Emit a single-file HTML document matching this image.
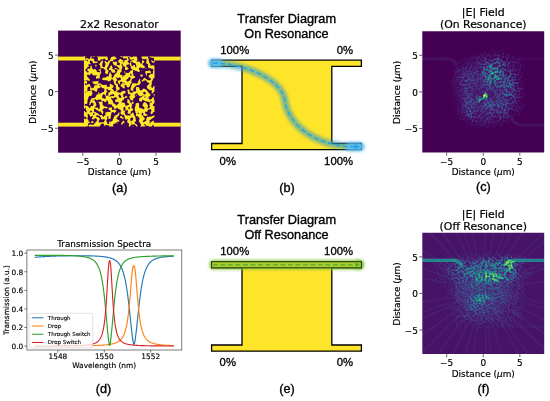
<!DOCTYPE html>
<html><head><meta charset="utf-8"><title>Resonator transfer figure</title>
<style>html,body{margin:0;padding:0;background:#fff}svg{display:block}</style></head>
<body>
<svg width="550" height="401" viewBox="0 0 550 401">
<rect width="550" height="401" fill="#fff"/>
<defs>
<filter id="vir" x="0" y="0" width="1" height="1" filterUnits="objectBoundingBox" color-interpolation-filters="sRGB"><feGaussianBlur stdDeviation="0.78"/><feComponentTransfer><feFuncR type="table" tableValues="0.267 0.277 0.282 0.283 0.279 0.271 0.259 0.245 0.230 0.214 0.199 0.186 0.173 0.161 0.149 0.138 0.128 0.121 0.121 0.132 0.158 0.197 0.246 0.304 0.369 0.440 0.516 0.596 0.678 0.762 0.846 0.926 0.993"/><feFuncG type="table" tableValues="0.005 0.050 0.095 0.136 0.175 0.214 0.252 0.288 0.322 0.356 0.388 0.419 0.449 0.479 0.508 0.537 0.567 0.596 0.626 0.655 0.684 0.712 0.739 0.765 0.789 0.811 0.831 0.849 0.864 0.876 0.887 0.897 0.906"/><feFuncB type="table" tableValues="0.329 0.376 0.417 0.453 0.483 0.507 0.525 0.537 0.546 0.551 0.555 0.557 0.558 0.558 0.557 0.555 0.551 0.544 0.533 0.520 0.502 0.479 0.452 0.420 0.383 0.341 0.294 0.243 0.190 0.137 0.100 0.104 0.144"/><feFuncA type="linear" slope="0" intercept="1"/></feComponentTransfer></filter>
<filter id="glowB" x="-20%" y="-20%" width="140%" height="140%"><feGaussianBlur stdDeviation="1.7"/></filter>
<filter id="glowG" x="-20%" y="-100%" width="140%" height="300%"><feGaussianBlur stdDeviation="1.6"/></filter>
<filter id="hz" x="-30%" y="-30%" width="160%" height="160%"><feGaussianBlur stdDeviation="2.5"/></filter>
<filter id="hz2" x="-40%" y="-40%" width="180%" height="180%"><feGaussianBlur stdDeviation="7"/></filter>
<filter id="soft" x="-5%" y="-5%" width="110%" height="110%"><feGaussianBlur stdDeviation="0.3"/></filter>
</defs>
<rect x="58.1" y="30.6" width="122.6" height="122.1" fill="#440154"/>
<rect x="58.1" y="56.6" width="27" height="3.9" fill="#fde725"/>
<rect x="58.1" y="122.7" width="27" height="3.9" fill="#fde725"/>
<rect x="154" y="56.6" width="26.7" height="3.9" fill="#fde725"/>
<rect x="154" y="122.7" width="26.7" height="3.9" fill="#fde725"/>
<path d="M84.75 58.22L84.5 57.63L84.25 57.57L84 57.7L84 56.36L87.84 56.4L87.25 56.61L86.25 56.51L85 56.59L84.83 57.15L84.75 58.22ZM137.25 126.4L135.94 126.4L136.09 125.9L135.86 125.4L134.5 124.45L133.75 124.29L132.25 124.77L131.25 124.56L130.3 125.9L130.24 126.4L128.16 126.4L128.75 126.15L128.86 125.9L128.93 123.9L128.69 123.15L127.55 122.65L127.3 122.4L127.31 120.4L127.38 120.15L127.87 119.65L127.99 119.15L127.75 118.9L127.5 118.94L126.75 119.84L125.97 119.65L125.45 119.15L125.13 118.15L124.5 117.15L124.25 115.65L124 115.08L123.5 114.84L122 115.01L121.5 114.6L120.28 112.9L120.98 111.15L120.99 110.65L120.78 110.15L120.25 109.71L118.53 108.9L117.5 107.92L117 107.69L115.75 108.83L115.25 109.07L114.75 109L114.11 108.15L113.6 106.9L112.34 106.15L111.5 104.36L111.25 104.18L110.5 104.46L108.75 103.95L108.41 104.15L108 104.75L107.75 104.8L107.66 104.4L108.21 103.4L108.26 102.15L107.75 100.93L107 100.2L106.75 100.28L106.09 101.65L105.25 102.23L104.5 102.12L103.75 100.78L103.25 100.93L102.18 101.65L102.63 102.9L102.61 104.4L103.17 105.4L104.75 106.59L105 106.66L106 106.46L107 106.72L107.48 107.15L107.66 107.65L107.04 108.15L106.25 108.53L105.75 108.43L105 108.02L104.5 107.97L104 108.26L102.75 109.43L102.47 109.9L102.39 110.4L103.5 111.65L103.13 112.65L103.02 113.9L102.79 114.15L102.5 114.19L102.25 113.98L101.2 112.4L100.76 111.4L100.5 111.2L100 111.22L99 111.7L98.75 111.62L98 110.58L96.5 110.09L95.25 108.81L94.75 108.54L94.25 109L94.05 109.65L94.01 110.9L94.25 111.77L94.5 111.97L95.75 112.23L97.75 113.62L98.75 113.99L99 114.19L99.5 115.13L101.25 115.09L102 115.27L103.75 117.03L104 117.02L103.95 116.15L104.1 115.65L105.5 115.03L105.77 114.65L105.66 114.15L105.1 113.15L105.16 112.65L106.25 112.39L107 111.72L109.25 111.99L110.25 111.73L110.64 111.4L110.79 110.9L110.69 110.65L109.75 110.27L109.25 109.89L108.7 109.15L108.29 108.15L108.5 107.83L109.5 107.77L110.75 107.14L111.25 107.16L112.26 107.9L112.26 108.4L111.82 109.4L112 109.84L112.75 109.92L114.5 109.51L115 109.5L116.12 110.15L116.31 110.9L116.08 111.4L114.5 113L114.25 113.03L113.5 112.3L112.75 112.02L112 112.2L111.54 112.65L111.22 113.65L111.13 115.15L110.53 116.15L110.97 117.65L110.84 118.15L110.5 118.5L109.25 118.92L108.25 118.72L108.13 118.4L108.56 117.4L108.49 116.9L107.75 116.31L107.5 116.25L107.18 116.4L106.95 117.4L107.46 118.65L106.39 120.15L106.25 120.65L106.4 121.15L107.23 122.4L107.25 123.83L108.25 124.07L109.02 123.9L109.41 123.65L109.1 123.15L109.01 122.65L109.08 122.15L109.35 121.65L109.75 121.54L110.5 121.77L111 121.75L112.71 120.65L112.7 119.9L112.85 119.4L114.12 116.9L114.5 115.75L115.12 115.4L117 114.84L118 113.65L118.5 112.63L118.75 112.41L119.25 112.49L119.74 112.9L119.3 113.9L119.17 115.4L117.8 115.9L117.65 117.15L116.43 118.15L116.3 118.4L116.6 118.9L117.75 119.4L119.37 120.65L119.61 121.15L119.5 121.55L117.5 121.67L117.18 121.9L116.5 122.81L114.75 123.49L113.06 124.4L112.92 124.65L112.96 125.15L113.46 126.4L109.39 126.4L109.29 125.65L109 125.41L106.75 124.92L106.25 125L104.75 125.65L104.25 125.66L104.07 125.4L104 124.4L103.76 123.9L103.25 123.51L102.75 123.41L101.75 123.73L100.87 124.4L99.91 125.65L100.07 126.4L89.16 126.4L88.73 126.15L88.41 125.4L88.62 125.15L89.75 124.55L90.75 124.44L92.5 124.84L93.25 124.75L93.75 124.51L94.06 124.15L94.36 123.4L95.75 122.22L96.96 120.65L97.13 120.15L96.67 118.9L96.25 118.44L95.75 118.2L95.25 118.16L94.75 118.36L93.5 119.38L93 119.41L92.38 119.15L92.02 118.9L91.86 118.65L91.87 118.4L92.76 116.65L92.69 115.9L92.25 115.85L90.75 116.83L90.25 116.82L89.83 116.4L89.8 115.4L89.38 114.65L88.75 114.11L87.75 113.83L87.67 114.15L87.91 116.9L87.43 118.15L87.38 118.65L88.56 120.15L88.56 121.4L89.75 121.89L89.85 122.4L89.6 122.9L89.26 123.15L88.25 123.17L88.02 123.4L88.17 125.15L87.3 126.4L84 126.38L84 118.36L84.75 118.38L85 118.95L85.75 119.14L86.25 119.02L86.56 118.4L86.25 117.4L85.25 116.48L85 116.32L84.75 116.65L84 116.75L83.9 113.4L84 110.95L84.75 110.97L85 111.79L86 112.33L86.52 112.4L86.75 112.16L86.78 111.9L86.58 110.9L85.83 109.4L85.63 107.9L85 107.33L84.75 108.4L84.5 108.43L84 109.26L83.95 107.15L84 101.01L84.25 101.07L84.43 100.9L84.44 100.65L84.25 100.39L84 100.44L83.91 98.65L83.96 82.15L84 81.42L84.42 80.9L84.4 80.65L84 80.24L83.91 78.9L83.94 61.4L84 60.15L84.5 60.07L84.75 59.8L85 60.74L85.39 60.4L85.49 58.65L85.75 58.25L87.75 58.25L89.25 59.14L89.5 59.16L90 58.57L90.29 57.9L90.45 56.9L90.37 56.4L95.07 56.4L94.75 56.9L94.25 57.11L92.75 56.66L92 56.7L91.36 57.4L91.21 57.9L91.25 58.24L91.75 58.62L93.25 58.4L93.97 58.65L94.17 59.15L94.14 60.65L94.5 61.13L95 61.43L96 61.79L96.25 61.78L97.25 61.05L97.39 61.4L97.33 62.65L97.25 62.91L97 63.04L96.25 63.02L93.5 63.34L93.08 63.15L92.65 61.9L92.25 61.34L90.5 60.47L90 60.5L89.77 61.4L89.74 62.15L90 62.84L90.65 63.65L90.64 63.9L90.25 64.18L89 64.17L88.35 64.4L88.23 64.65L88.35 65.15L89.2 66.15L89.22 66.4L87.89 66.65L87.44 66.9L87.3 67.15L87.25 68.24L86 68.78L85.33 69.9L85.38 70.4L86.51 71.4L87.31 72.4L87.75 72.6L88.25 72.43L88.75 71.93L88.8 71.65L88.62 71.4L87.57 70.9L87.37 70.65L87.34 69.9L87.53 68.9L87.95 68.65L89.75 68.47L90.27 68.15L90.65 67.4L90.03 66.4L90.53 65.9L91 65.7L91.5 65.77L91.92 66.15L91.99 66.65L91.79 67.4L92.75 69.28L93.25 69.42L94.75 69.03L95.5 69.28L96.65 70.4L96.95 71.65L97.5 72.04L99.5 72.3L99.95 72.15L100.2 71.9L100.29 71.4L100.13 71.15L98.84 70.4L98.6 69.9L98.93 69.4L100.5 68.66L100.83 70.9L101.28 72.15L101.08 72.9L100.04 74.65L99.61 76.9L99.68 78.15L99.5 78.56L99.25 78.75L99 78.75L98 78.17L96.5 78.71L96.25 78.7L96 78.47L95.9 77.65L96 76.42L96.25 75.9L96.99 75.65L97 75.34L96.75 74.88L96.5 74.94L96 75.56L93.25 75.17L92.5 74.67L91.75 73.48L91.5 73.32L90.5 73.96L89.75 75.14L89.5 75.3L88 74.53L87.5 74.58L87.2 74.9L87.03 75.4L87.17 76.4L87.5 76.91L89.63 79.15L89.93 79.65L90.03 80.15L89.75 80.66L89 80.84L87.97 80.65L86.85 79.9L86.5 79.93L86.15 80.15L86.05 80.4L86.75 80.9L87.08 81.4L87.09 82.9L86.75 83.68L86.25 83.95L85 83.07L84.89 83.9L85 85.05L86 84.76L87 84.79L88.48 83.9L89.25 83.85L89.75 84.23L90.15 84.9L90.5 86.9L92.25 88.26L92.75 88.37L93 88.29L93.62 87.65L93.99 86.4L94.5 85.59L95.25 85.24L96.5 85.32L97.33 84.9L97.56 84.65L97.55 84.4L97 84.28L95.5 84.55L94 83.99L93.02 83.15L92.36 82.15L92.25 81.59L92.5 81.39L93.75 81.59L95.25 81.14L96.75 81.22L98.25 80.79L98.44 81.15L98.33 82.9L98.6 83.4L99.5 83.59L100.79 83.4L101.15 83.65L101.75 84.5L103.25 84.92L104.5 84.89L106.5 84.41L106.82 84.65L106.59 85.65L106.71 86.15L107 86.52L107.5 86.74L109.25 86.78L109.61 86.65L109.94 85.9L109.69 84.65L109.75 84.07L110 83.76L110.25 83.68L110.75 83.8L111.5 84.53L113 85.27L113.53 85.9L113.6 86.4L113.3 87.15L112.03 88.4L112.13 88.65L113.25 89.61L114.25 91.21L114.75 91.5L116 90.67L116.36 89.9L116.33 89.15L115.7 87.9L116 85.9L115.79 85.4L114.9 84.65L114.27 83.65L113.86 82.65L113.63 80.9L113.24 80.15L112.5 79.25L112 79L111.75 79.05L111.5 79.27L110.75 80.62L109 81.59L108.5 81.44L107.75 80.69L107.12 80.4L106 80.22L104.25 80.32L102.8 79.9L102.38 79.65L102.18 79.15L102.26 78.65L102.5 78.23L103.5 77.55L104 77.52L105 77.77L105.5 77.55L106.5 76.66L107 76.4L108.25 76.33L108.82 76.15L109.07 75.65L108.92 74.9L108.97 74.4L109.53 73.15L109.7 72.15L110 71.89L110.25 71.91L110.49 72.15L110.58 73.15L111.25 73.96L111.61 74.65L111.77 75.9L111.62 77.65L112 78.05L112.5 77.97L113.08 77.4L114.41 74.65L116.53 72.65L116.9 71.65L117.57 70.4L117.5 70.04L116.25 69.22L114.75 69.06L114.65 68.65L114.85 67.9L115 67.72L115.5 67.74L117.5 68.88L118 69.58L119 69.5L119.45 69.15L119.49 68.9L119.25 68.45L118.27 67.65L117.25 66.45L116.25 65.81L114.75 65.55L113.62 64.65L112.71 62.9L113 61.53L113.5 61.55L114.75 61.93L115.75 61.49L116.25 61.65L117.28 62.65L116.77 64.15L116.84 64.65L117.5 65.04L119 65.25L119.53 64.9L120 63.9L119.83 63.15L119.5 62.72L118.25 62.45L118.06 62.15L118.41 60.4L118.96 59.65L120.25 59.08L121 59L121.34 59.15L122 59.98L123.25 60.33L123.49 60.65L123.48 60.9L122.48 61.9L122.55 62.15L123 62.22L123.63 62.15L124.05 61.9L124.14 60.9L124.59 60.4L125.25 60.12L126.49 59.9L126.79 59.65L126.9 58.9L126.59 58.4L126 58.26L123.5 58.61L123.25 58.39L122.75 57.18L122.5 56.97L121 57.12L120.52 56.9L120.34 56.65L120.3 56.4L121 56.37L122.77 56.4L123 56.51L124.75 56.37L130.21 56.4L130.88 56.9L131.75 57.15L132.25 57.04L133.39 56.4L136.29 56.4L137.19 57.15L137.28 57.4L137.06 57.9L137.08 58.15L137.52 59.4L137.4 59.9L136.56 61.15L136.57 61.4L137.25 61.7L138.5 61.38L139.25 61.43L139.84 61.9L140.21 63.15L141 63.52L141.75 63.59L142.07 63.4L141.88 62.15L142.25 60.19L142.5 59.74L143.11 60.4L144.13 60.9L144.28 61.15L144.29 61.65L143.94 62.4L143.25 63.09L142.25 63.65L143.06 65.15L144.55 65.9L144.77 67.65L144.7 67.9L143 68.36L141.75 67.75L140.5 67.38L140 67.32L139.75 67.43L139.12 68.15L138.92 69.15L139.18 69.9L140.12 70.65L140.1 70.9L139.42 71.65L138.75 72.04L138.25 71.96L137.25 71.2L136.03 70.9L133.5 69.95L132.75 69.9L131.06 68.4L130.87 67.9L130.93 66.65L130.1 65.65L129.76 64.9L129.6 63.65L129.67 63.15L130.48 61.9L130.56 61.15L130.75 60.79L133.75 59.68L133.97 59.4L133.5 59.12L131.75 59.71L131 59.69L130.25 59.45L129.68 58.9L129.6 57.4L129.25 57.04L128.5 57L128 57.59L128.05 58.15L128.83 59.15L128.93 59.9L128.66 60.4L127.82 60.9L127.61 61.4L127.89 61.9L129.19 63.15L129.21 63.65L128.54 64.4L127.75 64.76L126.5 65.1L126.27 65.4L126.5 66.15L128.49 68.15L128.59 68.65L128.21 69.15L126.5 69.94L125.75 70.03L125.21 69.9L124.96 69.65L124.83 69.15L124.92 68.4L125.31 67.4L125.18 66.9L123.19 65.9L122.75 64.63L122.25 63.68L122 63.51L121.75 63.6L121.55 63.9L121.58 64.65L122.34 66.4L122.31 67.4L121.65 69.4L121.64 70.9L121.5 71.64L121.25 71.94L120.34 72.4L120.09 73.15L120.01 74.15L120.46 74.65L122.12 75.15L122.82 75.65L122.45 76.65L122.64 77.15L123 77.24L123.25 77.04L123.26 76.4L123.06 75.9L123.19 75.65L124.75 75.24L125.18 74.9L125.42 74.15L125.51 72.9L126.5 72.63L128 72.88L128.75 72.79L129.5 72.15L130.28 70.9L130.75 70.43L132.75 69.9L133.23 70.9L133.15 71.65L132.8 72.65L132.89 73.15L133.28 73.9L133.28 75.15L134 76.01L135 76.46L135.2 76.9L135.23 77.4L135 77.74L133.5 78.21L131.75 79.18L131.51 80.4L131.13 81.4L131.81 81.9L131.83 82.65L131.67 82.9L130.73 83.4L130.43 84.4L129.92 85.4L129.59 86.65L129 87.29L128.25 87.5L127 86.98L126.57 86.4L126.44 85.15L126.25 84.9L125.75 84.79L125.25 84.95L123.99 85.9L124.5 86.19L124.79 86.65L124.92 87.4L124.75 87.93L124.5 88.15L124 88.28L123.5 88.19L122.95 87.9L122 86.99L120.89 86.4L120.54 85.9L120.59 85.4L121.32 84.15L122.89 82.65L122.45 82.15L122 81.8L121.25 81.6L120.75 81.68L120.25 81.98L119.84 82.65L119.91 83.15L120.37 83.9L120.25 84.35L120 84.48L119.5 84.24L119 83.65L118.34 83.15L118 82.4L117.63 80.65L120 80.29L120.75 79.83L120.87 79.15L120.43 77.65L120 77.32L119.5 77.29L118.25 78.21L117.75 78.29L116.75 77.37L116.5 77.33L116.25 77.5L116.12 77.9L116.25 78.4L117.14 79.65L117.35 80.4L116.5 80.69L116.08 81.15L115.82 81.9L115.89 82.65L116.29 83.4L118.06 84.4L118.23 84.9L117.97 85.9L118.04 86.4L118.5 87.02L119.5 87.48L119.81 88.4L119.62 89.15L116.78 91.15L116.67 91.4L116.81 91.9L117.5 92.27L118.75 92.29L120 93.05L120.25 92.99L121.1 91.9L122.75 91.1L123.75 90.83L124.75 91.05L125.61 91.65L125.74 91.9L125.72 92.4L125.14 93.15L123.75 93.67L123.25 94.11L123.14 94.9L123.37 96.65L124 97.35L124.75 97.54L125.5 96.12L126 95.76L126.86 96.15L127.31 96.9L127.2 97.4L126.75 97.82L125 97.92L124.75 98.07L123.72 99.4L122.29 100.65L121.97 101.15L121.5 102.47L121.5 103.12L121.75 103.18L122.07 102.4L122.5 102.28L124.59 102.9L125 103.4L125.25 105.12L125.75 105.81L126.25 105.82L128.5 105.03L129.1 104.4L129.13 103.9L128.53 103.4L127.25 102.8L127.02 102.4L127.4 101.15L127.29 99.65L127.5 99.2L127.75 99.11L128.5 99.32L129.33 99.9L130.35 101.9L131 103.55L131.25 103.64L131.54 102.9L132.42 101.65L132.75 100.89L133.25 101.66L133.62 102.65L133.62 103.15L133.31 103.65L132 104.01L131.88 104.15L132.29 105.65L132.21 105.9L131.54 106.65L131.35 107.15L131.59 107.65L133.01 108.9L133.24 109.4L133.18 109.9L132.5 110.78L131.5 110.98L131.23 111.15L130.97 111.65L130.47 113.65L130.25 113.84L128.5 113.8L127.77 113.4L127.46 112.65L127.87 111.65L127.94 110.65L127.75 110.13L127.25 110.03L125.75 110.52L124.92 111.4L124.66 112.15L124.84 113.65L125.75 114.89L126.5 115.36L127.25 115.46L128.5 115.27L130 115.78L130.24 115.65L130.31 115.4L130.34 113.9L130.5 113.69L131.25 113.71L131.75 113.41L132.75 112.39L133.25 112.49L133.51 112.9L134 114.81L134.97 116.15L135.25 116.79L136.07 120.65L136 120.93L134.93 121.65L134.71 122.15L134.7 122.9L135 123.43L136.69 124.4L137.25 124.9L137.42 125.4L137.25 126.4ZM99.5 60.68L97.75 60.59L97.61 59.9L98.03 58.15L97.99 57.65L96.52 56.4L107.6 56.4L107.39 57.4L108 58.45L108.18 59.15L108.02 59.65L107.75 59.82L106 60.16L104.5 58.6L104 58.39L102.75 59.48L101.5 59.13L101 59.16L100.05 60.4L99.5 60.68ZM107.5 74.26L107.25 74.38L106.75 74.28L104.93 72.65L104.92 72.15L105.55 70.65L105.46 70.15L103.25 68.21L102.75 68.09L102 68.15L100.86 68.4L100.5 68.6L100.29 67.15L100.41 65.9L100.17 65.4L99.08 64.4L99.15 63.9L100.16 62.9L100.88 61.65L101.34 61.15L102.25 60.53L102.75 60.46L103.1 60.9L103.17 61.4L102.42 63.4L102.15 65.65L102.55 66.4L103.25 67.08L103.75 67.25L104.25 67.13L104.96 66.4L105.5 63.9L105.39 63.4L104.56 61.65L104.6 61.15L105 60.89L105.5 60.86L106.75 62.34L107.25 62.53L107.5 62.46L107.77 62.15L108.14 61.15L108.5 60.6L109.75 60.48L110 60.33L111 57.34L112.25 56.86L112.84 56.4L115.35 56.4L115.28 56.9L115.49 57.4L116.57 57.9L116.75 58.15L116.74 58.4L116.5 58.65L115.25 59.29L113.5 59.74L113.13 60.15L112.75 61.13L111 61.02L110.45 61.15L109.75 62.7L108.99 63.9L108.53 65.65L106.98 67.9L106.85 68.65L107.08 69.4L108.26 70.15L108.5 70.4L108.62 70.9L108.54 71.4L107.97 72.65L107.74 73.9L107.5 74.26ZM152.5 93.47L152 93.61L151.58 93.4L151.85 90.65L151.75 90.28L151.5 90.15L150.25 90.14L149.45 89.9L148.34 88.9L147.5 88.54L146.96 87.65L146.92 86.65L147.25 85.69L148 84.82L149.25 83.95L149.4 83.65L149.33 83.15L149 82.89L147.5 82.59L147.25 82.33L146.83 81.15L146 80.42L144 80.51L143.68 80.65L143 81.37L142.5 81.57L141.87 81.4L141.57 80.9L141.9 80.15L142.87 79.4L143.75 78.18L144.5 77.93L145 78.07L146 78.97L146.75 79.2L147.75 80.2L150 80.35L150.5 80.12L150.82 79.65L150.95 78.9L150.75 78.58L149.44 77.65L148.62 76.15L148.5 75.65L148.75 75.3L150 74.65L150.75 73.76L151.75 74.1L152.25 73.89L152.82 73.4L153.1 72.9L152.84 71.9L152.85 71.4L153.35 69.9L153.39 69.15L153 68.92L151.5 68.81L150.25 68.08L149 68.15L148.5 67.88L148.1 67.15L148 64.34L147.75 64.1L146.75 63.87L146.5 63.54L146.12 62.4L146.16 61.65L146.69 59.9L146.53 59.15L146.25 58.9L145.75 58.75L144.5 59.22L143.5 59.1L142.75 59.3L142.5 59.15L141.41 57.15L141.47 56.65L141.83 56.4L153.7 56.4L153.85 57.65L153.73 57.9L153.25 58.04L151.93 57.9L150.75 57.31L150 57.14L148.75 56.6L148.15 56.9L147.86 57.4L148.59 58.65L148.8 60.9L149.48 62.9L150.49 64.4L150.53 65.65L150.75 65.81L151 65.75L152 65.2L152.5 65.13L153.75 65.58L154.5 65.67L154.5 77.82L153.34 78.4L152.5 80.55L151.75 81.65L151.84 84.15L151.09 85.65L151.5 87.37L151.75 87.7L152.25 87.91L152.97 87.4L153.4 86.15L154.5 85.68L154.5 91.37L153.77 91.9L152.5 93.47ZM154.5 58.86L154.27 58.15L154.5 57.92L154.5 58.86ZM87.44 61.15L88 60.65L88.23 60.15L87.95 59.9L87.25 59.81L86.69 60.15L86.45 60.65L86.75 61.19L87 61.3L87.44 61.15ZM154.5 62.89L153.75 62.59L152.75 62.76L151.27 61.15L151.17 60.9L151.25 60.47L151.5 60.31L151.97 60.4L152.75 61.03L153.25 61.25L154.5 60.59L154.5 62.89ZM136.17 67.15L136.37 66.65L136.36 65.9L136.06 65.15L135.91 64.15L135.5 63.43L135 63.06L134 63.05L133.5 62.91L132 61.6L131.5 61.61L131.11 61.9L131.01 62.4L131.12 63.15L131.84 66.15L132.25 66.27L133.75 65.03L134.5 64.9L134.91 65.15L135 65.37L135.03 66.4L135.25 66.92L135.75 67.31L136.17 67.15ZM96.25 66.53L95.5 66.53L95.11 66.15L95.23 65.15L95.5 64.73L95.75 64.59L96.25 64.74L96.72 65.4L96.67 66.15L96.25 66.53ZM114.25 72.66L113.25 72.79L112.42 72.65L111.41 71.65L111 70.23L110.5 70.06L109.25 70.03L108.88 69.65L109.04 68.4L109.87 67.15L110.75 65.47L111 65.32L111.5 65.34L111.75 65.52L112.46 67.15L112.6 67.65L112.3 68.9L112.43 69.15L113 69.3L114.25 69.28L114.55 69.4L114.86 70.4L115.49 71.65L115.25 72.16L114.25 72.66ZM145.75 68.94L145.22 68.4L145.1 68.15L145.25 67.9L145.75 67.91L145.99 68.15L146 68.72L145.75 68.94ZM146.25 75.92L146 76.04L145.91 75.9L145.97 74.4L145.66 73.4L144.93 71.9L145.06 71.65L146 70.88L147 71.1L147.75 71.09L148.5 70.86L149.25 70.4L149.75 70.39L150.25 70.87L150.76 71.65L150.87 72.4L150.71 73.15L150.5 73.43L149 73.11L147.75 73.11L147.25 73.32L147 73.65L146.71 74.9L146.25 75.92ZM142 70.99L141.75 71.1L141.5 71.03L140.96 70.65L141.5 70.42L141.89 70.65L142 70.99ZM125.25 72.77L124.5 72.79L124.03 72.4L124.08 71.65L124.5 71.19L124.75 71.2L125.18 71.65L125.39 72.4L125.39 72.65L125.25 72.77ZM131.44 75.65L131.63 75.4L131.68 74.9L131.25 74.03L130.75 73.8L130.25 73.99L130 74.27L129.92 74.65L130.25 75.55L130.75 75.87L131.44 75.65ZM142 76.74L141.5 76.86L140.94 76.65L140.09 74.65L140.25 74.53L142.25 74.46L142.65 74.65L142.87 75.15L142.82 75.65L142.5 76.27L142 76.74ZM127.81 81.4L129.51 80.65L130.13 79.4L130.69 78.65L130.56 77.65L130 77.06L129.5 77.04L128.79 77.4L128.07 78.65L126.75 79.42L126.33 79.9L126.34 80.65L126.75 81.36L127.25 81.61L127.81 81.4ZM132.5 90.92L131.75 90.63L130.45 89.65L130.36 89.4L130.86 88.4L131.04 86.65L132.16 83.65L132.75 83.3L133.75 83.19L135.25 83.27L136.75 83.77L137.25 83.62L137.89 82.65L138.05 81.15L139.1 79.9L139.24 78.9L139.75 78.68L140 78.79L140.19 79.15L139.95 80.15L140.66 81.9L140.59 82.9L140.26 83.65L139.46 84.65L138.75 85.22L138.25 85.3L137.25 84.93L136.25 85.78L134.95 86.4L134.25 87.6L133.42 88.4L133.16 90.4L133 90.73L132.5 90.92ZM85.14 81.15L85.42 80.65L85.39 80.4L85 80.18L84.9 80.65L85 81.35L85.14 81.15ZM124.56 83.65L124.55 83.15L124.25 82.83L123.5 82.64L123.06 82.9L124 83.68L124.25 83.76L124.56 83.65ZM100.63 85.9L100.69 85.4L100.5 84.9L100 84.69L99.36 84.9L99.27 85.4L99.5 85.73L100.25 86.12L100.5 86.14L100.63 85.9ZM89.97 107.9L91.25 105.86L91.5 105.84L92.25 106.19L92.75 106.1L93.09 105.15L93.87 103.9L93.5 103.46L92.5 102.79L92 102.59L91.5 102.59L91.25 102.69L90.87 103.15L90.25 104.97L89.75 105.24L89.25 105.12L89.17 104.65L89.65 103.65L89.49 102.4L90.44 100.9L90.75 99.35L91 98.76L92.75 97.88L94 98.08L95 97.5L96.1 96.15L96.25 95.15L96.5 94.66L96.75 94.55L97.75 94.59L98.19 94.15L98.42 93.4L98 92.66L98 92.4L98.25 92.12L98.62 92.15L99.08 93.15L100 93.72L100.25 93.67L101.82 92.4L102.5 92.15L103.75 91.98L104 91.71L104.48 89.65L104.25 88.75L103.75 88.21L102.25 88.24L101.91 87.9L101.25 86.69L101 86.49L100.75 86.41L100.05 87.65L99.5 88.06L98.75 88.25L97.96 88.15L97.52 88.4L97.38 88.9L97.43 89.9L97.31 90.65L97 91.27L96.5 91.63L95.75 91.66L94.5 90.72L92.75 90.25L92 90.32L91.26 90.65L91.28 90.9L91.75 91.46L92.55 92.9L92.55 93.65L91.69 94.65L91.47 95.65L91.25 96.07L90.75 96.14L89.5 95.8L88.9 96.15L88.58 97.4L87.94 98.65L87.62 100.15L87.41 102.9L87.25 103.41L87 103.71L86.5 103.96L85 104.02L84.75 104.53L84.46 104.65L84.3 104.9L84.47 105.15L84.75 105.22L85 105.85L86 105.63L87 105.8L88.25 106.5L89.25 107.86L89.5 108L89.97 107.9ZM88.06 91.4L88.5 90.83L88.75 90.73L90 90.98L90.84 90.65L90.15 89.65L90.09 89.15L90.27 87.4L90.19 87.15L89.82 86.9L89 86.68L88.5 86.73L87.89 87.15L87.61 87.65L87.42 88.65L87.58 90.15L87.25 90.9L87.22 91.4L87.5 91.57L88.06 91.4ZM154.5 126.43L153.89 126.4L153.55 125.15L153.25 124.86L153 124.81L152.71 124.9L152.33 125.4L152.15 125.9L152.18 126.4L148.62 126.4L148.29 125.9L148 125.75L146 125.75L145.58 124.4L145.25 124.14L144.75 124.05L144.25 124.16L144.1 124.4L144.14 124.65L144.53 125.15L145.48 125.9L145.44 126.4L140.25 126.4L140.75 125.56L140.96 124.4L140.84 123.9L139.64 122.65L138.87 121.15L138.9 120.65L139.31 119.65L139.34 117.9L138.8 117.15L138 116.39L137.5 116.16L136 115.93L135.79 115.65L136.18 113.65L135.46 112.15L134.73 109.4L134.79 107.15L135 106.66L135.43 106.15L135.59 105.65L135.51 104.15L135.79 103.65L136.25 103.26L137 103.12L137.75 102.72L138.25 102.8L138.78 103.15L139.17 103.65L139.03 106.4L139.21 107.15L139.5 107.68L140.25 108.24L141.75 108.19L143 109.15L143.5 109.3L144 109.06L144.37 108.65L144.49 107.9L144 107.09L142.59 105.9L142.5 105.4L143.07 103.4L143.75 102.4L144.5 102.12L145.25 102.23L146 102.69L147 103.82L148.11 105.65L148.06 106.15L147.52 107.15L147.4 107.65L147.51 108.15L148 108.41L149.43 107.65L149.95 107.15L149.9 106.65L149.37 105.4L149.72 103.9L149.75 102.48L151.5 102.52L151.96 102.15L151.98 101.65L151.25 101.32L150.51 101.4L150.11 101.65L149.5 102.38L148.5 101.64L146.5 101.48L145 101.06L142.75 99.67L142.23 99.9L141.9 101.15L141.53 101.65L141 101.78L140.5 101.58L139.25 100.77L138.96 100.4L138.92 99.65L139.25 98.53L139.5 98.08L140 97.6L141.44 97.15L142.25 96.28L143.04 95.9L143.29 95.65L143.25 95.18L142.75 95.14L141.75 95.88L140.5 96.37L140 96.37L139 95.46L138.06 94.9L137.94 94.15L137.67 93.65L137.25 93.31L136.75 93.13L136.25 93.33L135.75 94.08L134.75 94.18L134.49 94.4L134.5 95.09L135.27 95.9L135.15 97.15L135 97.41L134 98L133.61 98.4L133.13 99.15L132.75 100.32L132.5 100.65L131.75 100.2L130.7 99.9L130.36 99.65L129.95 98.15L129.35 97.15L129.21 96.65L129.5 96.01L130.43 95.4L130.52 94.9L130.18 94.4L128.5 93.92L127.78 93.4L127.7 92.9L127.95 91.9L127.32 90.65L127.4 90.15L127.75 89.65L128 89.51L128.5 89.52L129.5 90.12L129.61 90.65L129.53 91.9L130.25 92.55L131.25 92.85L132 92.69L132.58 92.4L133.75 91.33L134.5 91.27L135.5 91.49L135.75 91.44L136 91.17L136.18 90.15L135.86 88.65L135.86 87.9L136.01 87.4L136.5 86.92L138 86.91L138.75 87.29L139.76 88.9L139.76 89.9L139.91 90.15L140.25 90.31L141.25 90.32L141.95 90.15L143 88.73L143.5 88.46L144 88.5L145.5 89.49L146.95 89.9L147.5 91.15L149 93.08L150.37 94.15L150.5 95.15L150.31 95.65L148.83 96.65L148.5 97.32L148.69 98.4L149.5 99.61L149.75 99.73L150.25 99.68L151.5 99.05L151.95 98.65L152.5 97.57L152.75 97.34L153.5 97.2L154 97.4L154.07 97.9L153.92 99.4L154.02 99.65L154.5 99.98L154.5 103.07L153.32 103.9L152.92 104.65L152.77 105.4L152.87 105.65L153.25 105.92L154.5 105.9L154.5 112.22L153.75 111.92L153.25 112.02L152.88 112.9L152.25 113.86L151.75 114.25L151.5 114.17L150.73 113.4L150.42 112.65L150.63 111.9L151.53 110.65L151.43 110.15L150.75 109.34L150.25 109.16L149.75 109.17L148.5 109.47L147.87 109.9L147.38 111.4L147 111.84L146.5 111.88L145.5 111.5L145.08 111.9L145 112.65L145.31 113.4L145.75 113.84L147 114.37L147.28 114.65L147.43 115.15L147.25 115.8L146.25 115.69L144.75 116.08L143.46 115.65L143.11 112.9L142.75 112.58L142.44 112.65L142 112.99L141.73 113.4L141.63 113.9L141.74 114.65L142 115.2L143.13 115.9L143.5 117.12L144.5 117.69L144.82 118.15L144.84 118.65L144.45 119.4L144 119.99L143.16 120.65L142.84 121.15L142.89 121.9L143.25 122.17L145.75 121.08L146.23 120.65L146.2 118.9L147.25 116.66L147.5 116.51L148.25 117.07L148.75 117.12L150 116.5L151.5 116.42L152.33 115.9L153.5 115.75L154.5 115.33L154.5 117.15L154 117.08L153.75 117.23L153 117.91L151.75 118.71L151 119.43L149.65 120.15L149.58 120.65L149.91 122.15L149.1 122.9L149.25 123.29L149.78 123.4L150.06 123.15L150.42 122.4L151.47 121.65L153 120.78L153.75 120.77L154 121.02L154.07 121.4L153.85 122.65L154.5 123.75L154.5 126.43ZM106.96 95.65L107.99 95.4L108.35 95.15L108.47 94.65L108.27 92.9L108.36 92.4L109.5 92.18L110 91.93L110.37 91.4L110.55 90.65L110.5 90.33L110.25 90.15L108.5 90.15L108 89.75L107.5 88.89L107 88.69L106.5 89L106.33 89.4L106.43 89.9L107.15 91.4L107.16 91.9L106.04 92.9L105.96 93.15L106.17 94.4L105.97 95.65L106.96 95.65ZM99.25 90.22L98.92 90.15L98.86 89.9L99 89.64L99.25 89.67L99.36 89.9L99.25 90.22ZM85.68 92.65L85.91 92.4L85.86 92.15L85.5 91.82L85 91.64L85 92.57L85.68 92.65ZM145.05 94.4L145.5 94.12L145.75 93.65L145.78 92.9L145.51 92.15L145.25 91.92L144.75 91.77L143.5 91.88L143.1 92.4L143.15 93.15L144.09 94.4L144.5 94.51L145.05 94.4ZM105.47 98.9L105.62 98.65L105.52 96.9L105.71 95.9L105.59 95.65L105 95.29L104.25 94.22L104 94L103.75 94.02L102.98 94.65L102.07 95.9L102.4 97.9L102.75 98.21L104 98.34L105 98.88L105.47 98.9ZM110.11 96.4L112 95.93L114 96.16L114.25 95.93L114.28 95.65L113.5 94.08L113 94L110.67 94.9L109.21 95.9L109.18 96.15L109.37 96.4L110.11 96.4ZM154.5 96.56L154.04 95.9L153.55 94.65L153.59 94.15L153.75 94.06L154.5 94.11L154.5 96.56ZM120.8 97.9L121.3 97.15L121.34 96.65L121.19 96.15L119.75 94.33L119.25 94.39L118.65 94.9L118.46 95.4L118.84 96.65L119.51 97.65L120 98.07L120.5 98.08L120.8 97.9ZM136.75 95.45L136.25 95.61L135.75 95.52L135.66 95.4L135.8 94.9L136 94.65L136.5 94.75L136.93 95.15L136.75 95.45ZM145.68 97.4L145.85 97.15L145.8 96.9L145.36 96.65L144.5 96.6L144.27 96.9L144.44 97.4L144.75 97.58L145.25 97.61L145.68 97.4ZM116.62 105.4L117.25 104.57L118.25 103.89L118.5 103.15L118.5 102.08L118.25 101.78L118 101.78L116.75 102.33L116 102.37L115.68 102.15L115.35 101.65L115.03 100.4L115.25 99.8L116.5 99.2L116.85 98.9L117.11 98.4L117.1 97.9L116.5 97.51L115 97.36L114.5 97.57L113.75 98.21L113 98.36L112.5 98.25L111.75 97.73L111.5 97.65L111.25 97.78L111.1 98.4L111.25 99.04L112 99.84L112.5 100.61L112.89 101.4L113.13 102.4L113.44 102.9L114 103.42L115.39 104.15L116.25 105.33L116.5 105.52L116.62 105.4ZM99.14 109.15L99.5 108.8L99.67 108.15L99.76 106.15L99.55 104.9L99.63 103.9L99.52 103.65L98.7 102.9L98.54 102.15L98.75 101.82L99.25 101.6L100.75 101.91L101.25 101.84L101.66 101.65L101.81 101.4L101.65 100.9L101.25 100.14L101 99.87L100.5 99.68L99.25 99.44L98.5 99.46L97.72 100.15L97.25 100.37L96.75 100.18L95.75 99.27L95.25 99.18L94.75 99.31L94.53 99.65L94.66 101.15L95.87 102.4L96 103.85L96.52 104.65L96.47 104.9L94.9 106.9L94.78 107.15L94.85 107.4L95.25 107.55L96.75 107.58L97.75 107.81L98.16 108.15L98.64 109.15L99.14 109.15ZM93.26 100.4L93.46 99.9L93.41 99.65L93 99.45L92.52 99.65L92.39 99.9L92.5 100.35L93 100.55L93.26 100.4ZM85.07 101.15L85 100.46L85 101.39L85.07 101.15ZM124.89 110.65L125.4 110.4L125.49 110.15L125.44 107.9L125.13 106.9L124.5 106.63L124 106.88L123.58 107.65L123.45 108.4L123.47 109.9L123.66 110.4L124 110.64L124.89 110.65ZM129.38 108.9L129.89 108.4L130.01 107.65L129.5 107.2L128.75 107.2L128.25 107.65L128.32 108.65L128.75 109.05L129.38 108.9ZM139.59 109.9L139.5 109.59L139.37 109.9L139.59 109.9ZM90.94 112.4L91.92 111.9L92.08 111.4L91.96 111.15L91.5 110.85L90.5 110.8L90.03 111.15L89.95 111.9L90.25 112.36L90.94 112.4ZM139.03 113.9L139.18 113.65L139.14 113.4L138.76 112.9L138.25 112.57L137.73 112.65L137.56 113.15L137.69 113.4L138.5 113.9L139.03 113.9ZM93.76 114.9L94.25 114.51L94.51 113.9L94.38 113.15L94 112.78L93.5 112.99L93.25 113.27L92.94 114.15L93 114.99L93.25 115.1L93.76 114.9ZM100.5 122.4L101.5 122.23L103.25 122.37L103.75 122.21L104.17 121.15L104.86 120.15L104.8 119.65L104.5 119.29L104 119.06L102.5 119.47L101.5 119.15L100.98 118.65L100.81 117.4L100.58 116.9L99.25 115.72L97.5 115.32L96.25 115.48L95.89 115.9L96.26 116.4L97.25 116.94L98.5 117.14L99.87 118.65L99.98 118.9L99.91 119.4L99.5 120.02L98.68 120.65L98.67 121.15L98.83 121.9L99.16 122.4L99.75 122.56L100.5 122.4ZM123.25 119.23L122.75 119.09L121.75 118.24L120.75 117.98L120.25 117.69L119.93 117.15L120.01 116.4L120.29 116.15L121 115.94L121.5 115.92L121.75 116.07L122.5 117.17L123.58 117.9L123.71 118.65L123.25 119.23ZM131.33 121.15L132.61 120.15L133 119.62L133.25 118.4L133.07 117.9L132.75 117.63L131.75 117.38L131.25 117.42L130.77 117.9L130.34 118.65L130.22 119.4L130.5 120.63L131 121.22L131.33 121.15ZM121.75 124.69L121.5 124.7L121.24 124.4L121.15 123.65L121.31 123.15L121.95 122.15L123 120.91L123.5 120.59L123.75 120.68L124.25 121.27L124.61 122.15L124.47 122.4L123.5 122.96L122.25 124.39L121.75 124.69ZM92.75 122.93L92 122.88L91.09 122.4L90.81 121.9L90.97 121.65L91.5 121.33L92.25 121.16L92.75 121.15L93.25 121.35L93.59 121.9L93.66 122.4L93.5 122.71L92.75 122.93ZM131.52 123.65L131.63 123.15L131.5 122.8L131.25 122.6L131 122.77L130.97 123.15L131.25 123.67L131.52 123.65ZM117.25 124.08L117 123.97L116.88 123.65L117 123.24L117.25 123.16L117.62 123.4L117.5 123.84L117.25 124.08ZM110.28 124.15L110.58 123.9L110.26 123.65L109.98 123.65L109.66 123.9L110.28 124.15ZM134 126.4L132.71 126.4L133 126.04L133.5 126.11L134 126.4Z" fill="#fde725" fill-rule="evenodd" filter="url(#soft)"/>
<text x="119.4" y="27.7" font-family='"DejaVu Sans", "Liberation Sans", sans-serif' font-size="10.9" text-anchor="middle" fill="#000" stroke="#000" stroke-width="0.22">2x2 Resonator</text>
<text x="82.8" y="164.7" font-family='"DejaVu Sans", "Liberation Sans", sans-serif' font-size="8.92" text-anchor="middle" fill="#000" stroke="#000" stroke-width="0.18">−5</text>
<text x="53.7" y="132.15" font-family='"DejaVu Sans", "Liberation Sans", sans-serif' font-size="8.92" text-anchor="end" fill="#000" stroke="#000" stroke-width="0.18">−5</text>
<text x="119.4" y="164.7" font-family='"DejaVu Sans", "Liberation Sans", sans-serif' font-size="8.92" text-anchor="middle" fill="#000" stroke="#000" stroke-width="0.18">0</text>
<text x="53.7" y="95.55" font-family='"DejaVu Sans", "Liberation Sans", sans-serif' font-size="8.92" text-anchor="end" fill="#000" stroke="#000" stroke-width="0.18">0</text>
<text x="156" y="164.7" font-family='"DejaVu Sans", "Liberation Sans", sans-serif' font-size="8.92" text-anchor="middle" fill="#000" stroke="#000" stroke-width="0.18">5</text>
<text x="53.7" y="58.95" font-family='"DejaVu Sans", "Liberation Sans", sans-serif' font-size="8.92" text-anchor="end" fill="#000" stroke="#000" stroke-width="0.18">5</text>
<path d="M82.8 152.7v3.1M58.1 128.25h-3.1M119.4 152.7v3.1M58.1 91.65h-3.1M156 152.7v3.1M58.1 55.05h-3.1" stroke="#222" stroke-width="0.7" fill="none"/>
<text x="119.4" y="175.1" font-family='"DejaVu Sans", "Liberation Sans", sans-serif' font-size="8.92" text-anchor="middle" fill="#000" stroke="#000" stroke-width="0.18">Distance (<tspan font-style="italic">μ</tspan>m)</text>
<text transform="translate(35.5 92.15) rotate(-90)" font-family='"DejaVu Sans", "Liberation Sans", sans-serif' font-size="8.92" text-anchor="middle" fill="#000" stroke="#000" stroke-width="0.18">Distance (<tspan font-style="italic">μ</tspan>m)</text>
<text x="119.7" y="191.5" font-family='"Liberation Sans", Arial, sans-serif' font-size="12.7" text-anchor="middle" fill="#000" stroke="#000" stroke-width="0.36">(a)</text>
<path d="M211.6 60.2H361.4V66.3H331.8V143.5H361.4V149.7H211.6V143.5H242V66.3H211.6Z" fill="#ffe529" stroke="#000" stroke-width="1.3" stroke-linejoin="miter"/>
<path d="M213 63.2C246.2 63.2 281.7 80.4 284.7 100.1C288.1 122.9 312.1 146.8 357 146.8" fill="none" stroke="#409eb9" stroke-width="7.5" stroke-linecap="round" filter="url(#glowB)" opacity="0.62"/>
<path d="M212.5 63.2h6M350 146.8h10.5" fill="none" stroke="#58bdf6" stroke-width="9" stroke-linecap="round" filter="url(#glowB)" opacity="0.85"/>
<path d="M213 63.2C246.2 63.2 281.7 80.4 284.7 100.1C288.1 122.9 312.1 146.8 357 146.8" fill="none" stroke="#1fa8ea" stroke-width="1.45" stroke-dasharray="4.8 2.7"/>
<path d="M354.8 144.1L360 146.8L354.8 149.5Z" fill="#1fa8ea"/>
<path d="M211.6 261.7H361.4V267.8H331.8V345H361.4V351.2H211.6V345H242V267.8H211.6Z" fill="#ffe529" stroke="#000" stroke-width="1.3"/>
<rect x="209.6" y="260" width="154" height="9.6" rx="3" fill="#8cc63f" filter="url(#glowG)" opacity="0.95"/>
<circle cx="358.5" cy="264.8" r="5" fill="#7cc242" filter="url(#glowB)" opacity="0.8"/>
<rect x="211.6" y="261.7" width="149.8" height="6.1" fill="#aace2c" stroke="#22400c" stroke-width="1.1"/>
<path d="M213 264.8H357" fill="none" stroke="#58a636" stroke-width="1.35" stroke-dasharray="4.8 2.7"/>
<path d="M355.5 262.5L360 264.8L355.5 267.1Z" fill="#58a636"/>
<text x="286.7" y="22.9" font-family='"Liberation Sans", Arial, sans-serif' font-size="12.75" text-anchor="middle" fill="#000" stroke="#000" stroke-width="0.36">Transfer Diagram</text>
<text x="286.5" y="37.9" font-family='"Liberation Sans", Arial, sans-serif' font-size="12.65" text-anchor="middle" fill="#000" stroke="#000" stroke-width="0.35">On Resonance</text>
<text x="220.3" y="53.6" font-family='"Liberation Sans", Arial, sans-serif' font-size="11.3" text-anchor="start" fill="#000" stroke="#000" stroke-width="0.32">100%</text>
<text x="353" y="53.6" font-family='"Liberation Sans", Arial, sans-serif' font-size="11.3" text-anchor="end" fill="#000" stroke="#000" stroke-width="0.32">0%</text>
<text x="219.6" y="164.5" font-family='"Liberation Sans", Arial, sans-serif' font-size="11.3" text-anchor="start" fill="#000" stroke="#000" stroke-width="0.32">0%</text>
<text x="353" y="164.5" font-family='"Liberation Sans", Arial, sans-serif' font-size="11.3" text-anchor="end" fill="#000" stroke="#000" stroke-width="0.32">100%</text>
<text x="287.1" y="191.6" font-family='"Liberation Sans", Arial, sans-serif' font-size="12.7" text-anchor="middle" fill="#000" stroke="#000" stroke-width="0.36">(b)</text>
<text x="286.7" y="224.4" font-family='"Liberation Sans", Arial, sans-serif' font-size="12.75" text-anchor="middle" fill="#000" stroke="#000" stroke-width="0.36">Transfer Diagram</text>
<text x="286.5" y="239.4" font-family='"Liberation Sans", Arial, sans-serif' font-size="12.65" text-anchor="middle" fill="#000" stroke="#000" stroke-width="0.35">Off Resonance</text>
<text x="220.3" y="255.1" font-family='"Liberation Sans", Arial, sans-serif' font-size="11.3" text-anchor="start" fill="#000" stroke="#000" stroke-width="0.32">100%</text>
<text x="353" y="255.1" font-family='"Liberation Sans", Arial, sans-serif' font-size="11.3" text-anchor="end" fill="#000" stroke="#000" stroke-width="0.32">100%</text>
<text x="219.6" y="366" font-family='"Liberation Sans", Arial, sans-serif' font-size="11.3" text-anchor="start" fill="#000" stroke="#000" stroke-width="0.32">0%</text>
<text x="353" y="366" font-family='"Liberation Sans", Arial, sans-serif' font-size="11.3" text-anchor="end" fill="#000" stroke="#000" stroke-width="0.32">0%</text>
<text x="287.1" y="393.1" font-family='"Liberation Sans", Arial, sans-serif' font-size="12.7" text-anchor="middle" fill="#000" stroke="#000" stroke-width="0.36">(e)</text>
<defs><clipPath id="clip_on"><rect x="422.3" y="31.2" width="121.9" height="121.4"/></clipPath>
<clipPath id="clip_off"><rect x="422.3" y="232.7" width="121.9" height="121.4"/></clipPath></defs>
<g clip-path="url(#clip_on)">
<g filter="url(#vir)"><rect x="422.3" y="31.2" width="121.9" height="121.4" fill="#000"/><rect x="422.3" y="31.2" width="121.9" height="121.4" fill="#fff" opacity="0.0"/><ellipse cx="483.6" cy="90.2" rx="27" ry="27" fill="#fff" opacity="0.06" filter="url(#hz2)"/><ellipse cx="495.8" cy="74.2" rx="13.65" ry="13.65" fill="#fff" opacity="0.025" filter="url(#hz)"/><ellipse cx="488.3" cy="67.2" rx="6.5" ry="6.5" fill="#fff" opacity="0.005" filter="url(#hz)"/><ellipse cx="484.9" cy="96.2" rx="2.21" ry="1.95" fill="#fff" opacity="0.090" filter="url(#hz)"/><ellipse cx="479.1" cy="99" rx="2.86" ry="2.6" fill="#fff" opacity="0.036" filter="url(#hz)"/><ellipse cx="469.3" cy="105.2" rx="5.2" ry="11.7" fill="#fff" opacity="0.016" filter="url(#hz)"/><ellipse cx="488.3" cy="104.2" rx="6.5" ry="6.5" fill="#fff" opacity="0.016" filter="url(#hz)"/><ellipse cx="510.3" cy="91.2" rx="9.1" ry="11.7" fill="#fff" opacity="0.011" filter="url(#hz)"/><ellipse cx="502.3" cy="107.2" rx="10.4" ry="10.4" fill="#fff" opacity="0.010" filter="url(#hz)"/><ellipse cx="467.3" cy="79.2" rx="11.7" ry="11.7" fill="#fff" opacity="0.006" filter="url(#hz)"/><ellipse cx="484.3" cy="117.2" rx="13" ry="7.8" fill="#fff" opacity="0.006" filter="url(#hz)"/><path d="M422.3 59h24c9 0 9 4 13 14" fill="none" stroke="#fff" stroke-width="3" opacity="0.045"/><path d="M544.2 125.2h-20c-8 0 -10 -3 -14 -9" fill="none" stroke="#fff" stroke-width="3" opacity="0.04"/><path d="M544.2 59h-28" fill="none" stroke="#fff" stroke-width="2.5" opacity="0.025"/><g fill="#fff" opacity="0.04"><circle cx="491.8" cy="50.2" r="1.01"/><circle cx="494.3" cy="51.2" r="1.01"/><circle cx="497.8" cy="51.2" r="1.01"/><circle cx="500.8" cy="51.2" r="1.01"/><circle cx="484.8" cy="51.7" r="1.01"/><circle cx="502.8" cy="52.2" r="1.01"/><circle cx="489.8" cy="52.7" r="1.01"/><circle cx="495.8" cy="52.7" r="1.01"/><circle cx="481.3" cy="53.2" r="1.01"/><circle cx="485.3" cy="53.7" r="1.01"/><circle cx="493.8" cy="53.7" r="1.01"/><circle cx="483.3" cy="54.2" r="1.01"/><circle cx="506.3" cy="54.2" r="1.01"/><circle cx="514.3" cy="54.7" r="1.01"/><circle cx="480.8" cy="55.2" r="1.01"/><circle cx="475.3" cy="55.7" r="1.01"/><circle cx="510.3" cy="56.2" r="1.01"/><circle cx="472.3" cy="56.7" r="1.01"/><circle cx="513.3" cy="56.7" r="1.01"/><circle cx="474.3" cy="57.7" r="1.01"/><circle cx="467.3" cy="58.7" r="1.01"/><circle cx="472.3" cy="58.7" r="1.01"/><circle cx="510.8" cy="58.7" r="1.01"/><circle cx="464.3" cy="59.7" r="1.01"/><circle cx="469.8" cy="59.7" r="1.01"/><circle cx="518.3" cy="59.7" r="1.01"/><circle cx="461.8" cy="60.2" r="1.01"/><circle cx="515.8" cy="60.2" r="1.01"/><circle cx="466.3" cy="60.7" r="1.01"/><circle cx="520.8" cy="60.7" r="1.01"/><circle cx="457.8" cy="61.7" r="1.01"/><circle cx="518.8" cy="61.7" r="1.01"/><circle cx="460.3" cy="62.7" r="1.01"/><circle cx="472.3" cy="62.7" r="1.01"/><circle cx="456.3" cy="63.2" r="1.01"/><circle cx="465.3" cy="63.2" r="1.01"/><circle cx="519.3" cy="63.7" r="1.01"/><circle cx="463.8" cy="64.7" r="1.01"/><circle cx="517.8" cy="65.7" r="1.01"/><circle cx="523.8" cy="65.7" r="1.01"/><circle cx="460.8" cy="67.2" r="1.01"/><circle cx="472.8" cy="68.2" r="1.01"/><circle cx="464.8" cy="69.2" r="1.01"/><circle cx="453.8" cy="70.7" r="1.01"/><circle cx="522.3" cy="73.2" r="1.01"/><circle cx="459.3" cy="74.2" r="1.01"/><circle cx="452.8" cy="75.7" r="1.01"/><circle cx="521.8" cy="75.7" r="1.01"/><circle cx="454.3" cy="77.7" r="1.01"/><circle cx="453.8" cy="80.2" r="1.01"/><circle cx="522.8" cy="80.7" r="1.01"/><circle cx="456.3" cy="81.2" r="1.01"/><circle cx="457.3" cy="81.2" r="1.01"/><circle cx="452.3" cy="81.7" r="1.01"/><circle cx="453.8" cy="83.2" r="1.01"/><circle cx="522.3" cy="83.2" r="1.01"/><circle cx="454.8" cy="84.7" r="1.01"/><circle cx="520.8" cy="85.7" r="1.01"/><circle cx="522.8" cy="85.7" r="1.01"/><circle cx="457.8" cy="87.2" r="1.01"/><circle cx="456.3" cy="88.2" r="1.01"/><circle cx="524.3" cy="88.2" r="1.01"/><circle cx="476.3" cy="90.2" r="1.01"/><circle cx="456.8" cy="91.2" r="1.01"/><circle cx="522.3" cy="92.2" r="1.01"/><circle cx="455.8" cy="92.7" r="1.01"/><circle cx="458.8" cy="92.7" r="1.01"/><circle cx="475.3" cy="93.2" r="1.01"/><circle cx="524.3" cy="93.7" r="1.01"/><circle cx="458.8" cy="95.2" r="1.01"/><circle cx="524.3" cy="96.2" r="1.01"/><circle cx="459.8" cy="99.7" r="1.01"/><circle cx="460.3" cy="101.7" r="1.01"/><circle cx="519.8" cy="102.7" r="1.01"/><circle cx="520.8" cy="104.2" r="1.01"/><circle cx="523.8" cy="104.2" r="1.01"/><circle cx="518.3" cy="105.2" r="1.01"/><circle cx="523.8" cy="106.2" r="1.01"/><circle cx="519.8" cy="106.7" r="1.01"/><circle cx="458.8" cy="107.2" r="1.01"/><circle cx="521.8" cy="107.2" r="1.01"/><circle cx="457.8" cy="109.7" r="1.01"/><circle cx="521.8" cy="109.7" r="1.01"/><circle cx="459.8" cy="110.2" r="1.01"/><circle cx="459.3" cy="112.2" r="1.01"/><circle cx="511.3" cy="112.7" r="1.01"/><circle cx="519.8" cy="112.7" r="1.01"/><circle cx="457.8" cy="113.7" r="1.01"/><circle cx="514.8" cy="114.2" r="1.01"/><circle cx="459.8" cy="114.7" r="1.01"/><circle cx="482.8" cy="114.7" r="1.01"/><circle cx="518.8" cy="114.7" r="1.01"/><circle cx="462.3" cy="115.7" r="1.01"/><circle cx="512.3" cy="116.2" r="1.01"/><circle cx="460.3" cy="117.7" r="1.01"/><circle cx="513.3" cy="118.2" r="1.01"/><circle cx="461.3" cy="119.7" r="1.01"/><circle cx="509.3" cy="119.7" r="1.01"/><circle cx="511.8" cy="119.7" r="1.01"/><circle cx="465.8" cy="120.7" r="1.01"/><circle cx="483.3" cy="120.7" r="1.01"/><circle cx="467.8" cy="122.2" r="1.01"/><circle cx="470.3" cy="122.2" r="1.01"/><circle cx="512.3" cy="122.2" r="1.01"/><circle cx="494.8" cy="122.7" r="1.01"/><circle cx="501.8" cy="122.7" r="1.01"/><circle cx="507.8" cy="122.7" r="1.01"/><circle cx="516.8" cy="122.7" r="1.01"/><circle cx="495.8" cy="123.2" r="1.01"/><circle cx="514.3" cy="123.2" r="1.01"/><circle cx="498.3" cy="123.7" r="1.01"/><circle cx="488.3" cy="124.2" r="1.01"/><circle cx="493.3" cy="124.2" r="1.01"/><circle cx="502.3" cy="124.2" r="1.01"/><circle cx="467.3" cy="124.7" r="1.01"/><circle cx="472.3" cy="124.7" r="1.01"/><circle cx="477.8" cy="124.7" r="1.01"/><circle cx="500.8" cy="124.7" r="1.01"/><circle cx="470.3" cy="125.2" r="1.01"/><circle cx="474.8" cy="125.2" r="1.01"/><circle cx="479.8" cy="125.7" r="1.01"/><circle cx="489.3" cy="126.7" r="1.01"/><circle cx="493.8" cy="126.7" r="1.01"/><circle cx="486.8" cy="127.2" r="1.01"/><circle cx="478.3" cy="127.7" r="1.01"/></g><g fill="#fff" opacity="0.08"><circle cx="503.3" cy="54.2" r="1.02"/><circle cx="499.8" cy="54.7" r="1.02"/><circle cx="488.8" cy="55.2" r="1.02"/><circle cx="486.8" cy="55.7" r="1.02"/><circle cx="492.8" cy="55.7" r="1.02"/><circle cx="508.3" cy="55.7" r="1.02"/><circle cx="482.8" cy="56.2" r="1.02"/><circle cx="479.3" cy="56.7" r="1.02"/><circle cx="490.3" cy="57.2" r="1.02"/><circle cx="505.8" cy="57.2" r="1.02"/><circle cx="477.3" cy="57.7" r="1.02"/><circle cx="507.8" cy="57.7" r="1.02"/><circle cx="478.3" cy="58.2" r="1.02"/><circle cx="480.8" cy="58.7" r="1.02"/><circle cx="513.3" cy="58.7" r="1.02"/><circle cx="476.8" cy="59.7" r="1.02"/><circle cx="479.3" cy="61.7" r="1.02"/><circle cx="512.8" cy="61.7" r="1.02"/><circle cx="469.8" cy="62.2" r="1.02"/><circle cx="476.8" cy="62.2" r="1.02"/><circle cx="474.3" cy="62.7" r="1.02"/><circle cx="517.3" cy="62.7" r="1.02"/><circle cx="476.8" cy="63.2" r="1.02"/><circle cx="467.8" cy="63.7" r="1.02"/><circle cx="513.3" cy="64.2" r="1.02"/><circle cx="471.3" cy="65.2" r="1.02"/><circle cx="475.8" cy="65.2" r="1.02"/><circle cx="520.8" cy="65.2" r="1.02"/><circle cx="510.3" cy="65.7" r="1.02"/><circle cx="467.3" cy="66.2" r="1.02"/><circle cx="514.8" cy="66.2" r="1.02"/><circle cx="512.8" cy="66.7" r="1.02"/><circle cx="474.3" cy="67.2" r="1.02"/><circle cx="520.3" cy="67.7" r="1.02"/><circle cx="469.8" cy="69.2" r="1.02"/><circle cx="459.8" cy="69.7" r="1.02"/><circle cx="462.3" cy="69.7" r="1.02"/><circle cx="519.3" cy="69.7" r="1.02"/><circle cx="473.3" cy="70.2" r="1.02"/><circle cx="458.3" cy="71.2" r="1.02"/><circle cx="514.8" cy="71.2" r="1.02"/><circle cx="463.3" cy="71.7" r="1.02"/><circle cx="455.8" cy="72.2" r="1.02"/><circle cx="519.3" cy="72.2" r="1.02"/><circle cx="473.3" cy="73.2" r="1.02"/><circle cx="455.3" cy="74.2" r="1.02"/><circle cx="461.8" cy="74.2" r="1.02"/><circle cx="474.8" cy="74.7" r="1.02"/><circle cx="517.8" cy="76.2" r="1.02"/><circle cx="456.3" cy="76.7" r="1.02"/><circle cx="520.3" cy="77.2" r="1.02"/><circle cx="473.8" cy="77.7" r="1.02"/><circle cx="457.3" cy="79.2" r="1.02"/><circle cx="519.3" cy="79.2" r="1.02"/><circle cx="517.3" cy="79.7" r="1.02"/><circle cx="519.8" cy="82.2" r="1.02"/><circle cx="459.8" cy="82.7" r="1.02"/><circle cx="472.8" cy="85.7" r="1.02"/><circle cx="477.8" cy="85.7" r="1.02"/><circle cx="476.3" cy="86.2" r="1.02"/><circle cx="480.3" cy="86.2" r="1.02"/><circle cx="476.8" cy="88.2" r="1.02"/><circle cx="462.3" cy="88.7" r="1.02"/><circle cx="522.3" cy="89.2" r="1.02"/><circle cx="473.3" cy="89.7" r="1.02"/><circle cx="459.8" cy="90.7" r="1.02"/><circle cx="461.8" cy="90.7" r="1.02"/><circle cx="471.3" cy="90.7" r="1.02"/><circle cx="479.8" cy="91.7" r="1.02"/><circle cx="472.8" cy="92.2" r="1.02"/><circle cx="464.3" cy="92.7" r="1.02"/><circle cx="519.8" cy="92.7" r="1.02"/><circle cx="465.8" cy="94.2" r="1.02"/><circle cx="489.8" cy="94.7" r="1.02"/><circle cx="518.3" cy="94.7" r="1.02"/><circle cx="463.8" cy="95.2" r="1.02"/><circle cx="461.3" cy="95.7" r="1.02"/><circle cx="519.8" cy="96.2" r="1.02"/><circle cx="521.8" cy="97.2" r="1.02"/><circle cx="493.3" cy="97.7" r="1.02"/><circle cx="461.8" cy="98.2" r="1.02"/><circle cx="519.8" cy="98.2" r="1.02"/><circle cx="518.8" cy="100.7" r="1.02"/><circle cx="462.3" cy="102.7" r="1.02"/><circle cx="513.8" cy="103.7" r="1.02"/><circle cx="516.8" cy="103.7" r="1.02"/><circle cx="462.8" cy="104.7" r="1.02"/><circle cx="514.8" cy="106.2" r="1.02"/><circle cx="461.8" cy="106.7" r="1.02"/><circle cx="517.8" cy="107.2" r="1.02"/><circle cx="475.8" cy="107.7" r="1.02"/><circle cx="515.8" cy="108.2" r="1.02"/><circle cx="519.8" cy="108.7" r="1.02"/><circle cx="513.8" cy="110.2" r="1.02"/><circle cx="516.3" cy="110.2" r="1.02"/><circle cx="462.3" cy="110.7" r="1.02"/><circle cx="517.8" cy="111.2" r="1.02"/><circle cx="461.8" cy="113.2" r="1.02"/><circle cx="485.8" cy="113.7" r="1.02"/><circle cx="480.8" cy="114.2" r="1.02"/><circle cx="484.8" cy="115.7" r="1.02"/><circle cx="509.8" cy="116.2" r="1.02"/><circle cx="464.3" cy="117.2" r="1.02"/><circle cx="483.8" cy="117.2" r="1.02"/><circle cx="496.8" cy="117.2" r="1.02"/><circle cx="508.3" cy="117.2" r="1.02"/><circle cx="467.8" cy="118.7" r="1.02"/><circle cx="463.8" cy="119.2" r="1.02"/><circle cx="470.8" cy="119.2" r="1.02"/><circle cx="491.8" cy="119.2" r="1.02"/><circle cx="480.8" cy="119.7" r="1.02"/><circle cx="503.3" cy="120.7" r="1.02"/><circle cx="479.8" cy="121.2" r="1.02"/><circle cx="496.3" cy="121.2" r="1.02"/><circle cx="505.8" cy="121.2" r="1.02"/><circle cx="472.3" cy="121.7" r="1.02"/><circle cx="492.3" cy="121.7" r="1.02"/><circle cx="477.3" cy="122.2" r="1.02"/><circle cx="481.8" cy="122.7" r="1.02"/><circle cx="484.8" cy="122.7" r="1.02"/><circle cx="484.3" cy="124.7" r="1.02"/><circle cx="481.8" cy="125.2" r="1.02"/></g><g fill="#fff" opacity="0.12"><circle cx="495.8" cy="55.2" r="1.04"/><circle cx="498.3" cy="55.7" r="1.04"/><circle cx="503.3" cy="56.7" r="1.04"/><circle cx="501.3" cy="58.7" r="1.04"/><circle cx="486.3" cy="59.2" r="1.04"/><circle cx="507.3" cy="59.7" r="1.04"/><circle cx="484.3" cy="60.2" r="1.04"/><circle cx="489.3" cy="60.2" r="1.04"/><circle cx="481.8" cy="61.2" r="1.04"/><circle cx="506.3" cy="61.7" r="1.04"/><circle cx="510.3" cy="61.7" r="1.04"/><circle cx="514.8" cy="62.2" r="1.04"/><circle cx="470.8" cy="67.2" r="1.04"/><circle cx="478.3" cy="67.2" r="1.04"/><circle cx="463.3" cy="67.7" r="1.04"/><circle cx="508.8" cy="67.7" r="1.04"/><circle cx="466.3" cy="68.2" r="1.04"/><circle cx="475.8" cy="68.7" r="1.04"/><circle cx="513.3" cy="69.2" r="1.04"/><circle cx="510.8" cy="69.7" r="1.04"/><circle cx="516.3" cy="69.7" r="1.04"/><circle cx="466.3" cy="70.7" r="1.04"/><circle cx="507.8" cy="70.7" r="1.04"/><circle cx="512.3" cy="70.7" r="1.04"/><circle cx="468.8" cy="71.2" r="1.04"/><circle cx="471.3" cy="71.7" r="1.04"/><circle cx="465.8" cy="73.2" r="1.04"/><circle cx="463.8" cy="73.7" r="1.04"/><circle cx="477.8" cy="74.2" r="1.04"/><circle cx="517.8" cy="74.2" r="1.04"/><circle cx="464.8" cy="75.2" r="1.04"/><circle cx="477.8" cy="76.7" r="1.04"/><circle cx="458.8" cy="77.2" r="1.04"/><circle cx="469.3" cy="77.2" r="1.04"/><circle cx="472.3" cy="77.7" r="1.04"/><circle cx="462.8" cy="79.7" r="1.04"/><circle cx="461.3" cy="81.2" r="1.04"/><circle cx="480.8" cy="82.2" r="1.04"/><circle cx="470.3" cy="82.7" r="1.04"/><circle cx="460.3" cy="84.2" r="1.04"/><circle cx="476.3" cy="84.2" r="1.04"/><circle cx="481.8" cy="84.7" r="1.04"/><circle cx="517.8" cy="85.7" r="1.04"/><circle cx="483.3" cy="86.7" r="1.04"/><circle cx="481.3" cy="87.7" r="1.04"/><circle cx="486.3" cy="87.7" r="1.04"/><circle cx="472.3" cy="88.2" r="1.04"/><circle cx="518.3" cy="88.2" r="1.04"/><circle cx="520.3" cy="88.7" r="1.04"/><circle cx="479.3" cy="89.2" r="1.04"/><circle cx="464.8" cy="90.7" r="1.04"/><circle cx="518.8" cy="90.7" r="1.04"/><circle cx="482.8" cy="91.7" r="1.04"/><circle cx="500.3" cy="92.2" r="1.04"/><circle cx="468.3" cy="93.7" r="1.04"/><circle cx="487.3" cy="93.7" r="1.04"/><circle cx="472.3" cy="95.2" r="1.04"/><circle cx="477.3" cy="95.2" r="1.04"/><circle cx="494.8" cy="95.7" r="1.04"/><circle cx="517.8" cy="97.2" r="1.04"/><circle cx="471.3" cy="97.7" r="1.04"/><circle cx="503.3" cy="98.7" r="1.04"/><circle cx="509.3" cy="99.7" r="1.04"/><circle cx="473.8" cy="100.2" r="1.04"/><circle cx="515.8" cy="102.2" r="1.04"/><circle cx="511.3" cy="103.7" r="1.04"/><circle cx="476.8" cy="105.7" r="1.04"/><circle cx="480.8" cy="105.7" r="1.04"/><circle cx="512.3" cy="106.2" r="1.04"/><circle cx="473.3" cy="106.7" r="1.04"/><circle cx="508.3" cy="106.7" r="1.04"/><circle cx="462.8" cy="108.7" r="1.04"/><circle cx="473.8" cy="108.7" r="1.04"/><circle cx="478.3" cy="109.7" r="1.04"/><circle cx="484.8" cy="111.2" r="1.04"/><circle cx="499.3" cy="111.2" r="1.04"/><circle cx="482.8" cy="112.2" r="1.04"/><circle cx="487.8" cy="112.7" r="1.04"/><circle cx="475.3" cy="113.7" r="1.04"/><circle cx="487.8" cy="114.2" r="1.04"/><circle cx="479.3" cy="115.7" r="1.04"/><circle cx="475.8" cy="117.2" r="1.04"/><circle cx="478.3" cy="117.2" r="1.04"/><circle cx="487.8" cy="117.2" r="1.04"/><circle cx="490.3" cy="117.2" r="1.04"/><circle cx="481.3" cy="117.7" r="1.04"/><circle cx="506.3" cy="117.7" r="1.04"/><circle cx="500.3" cy="119.2" r="1.04"/><circle cx="489.3" cy="119.7" r="1.04"/><circle cx="472.8" cy="120.2" r="1.04"/><circle cx="475.8" cy="120.7" r="1.04"/><circle cx="485.8" cy="121.2" r="1.04"/><circle cx="498.8" cy="121.2" r="1.04"/><circle cx="489.3" cy="122.2" r="1.04"/></g><g fill="#fff" opacity="0.16"><circle cx="484.8" cy="57.7" r="1.05"/><circle cx="499.3" cy="60.2" r="1.05"/><circle cx="478.8" cy="63.7" r="1.05"/><circle cx="505.3" cy="63.7" r="1.05"/><circle cx="507.8" cy="65.2" r="1.05"/><circle cx="480.8" cy="67.2" r="1.05"/><circle cx="477.3" cy="71.2" r="1.05"/><circle cx="475.3" cy="72.7" r="1.05"/><circle cx="468.3" cy="73.7" r="1.05"/><circle cx="513.3" cy="73.7" r="1.05"/><circle cx="470.8" cy="74.2" r="1.05"/><circle cx="480.3" cy="74.7" r="1.05"/><circle cx="505.8" cy="75.2" r="1.05"/><circle cx="472.8" cy="75.7" r="1.05"/><circle cx="467.3" cy="76.2" r="1.05"/><circle cx="481.8" cy="76.7" r="1.05"/><circle cx="461.3" cy="77.2" r="1.05"/><circle cx="463.3" cy="77.2" r="1.05"/><circle cx="514.8" cy="77.2" r="1.05"/><circle cx="480.3" cy="78.7" r="1.05"/><circle cx="477.8" cy="79.2" r="1.05"/><circle cx="473.3" cy="80.2" r="1.05"/><circle cx="475.8" cy="80.2" r="1.05"/><circle cx="482.3" cy="80.2" r="1.05"/><circle cx="477.8" cy="81.7" r="1.05"/><circle cx="473.8" cy="83.2" r="1.05"/><circle cx="466.8" cy="84.2" r="1.05"/><circle cx="462.8" cy="84.7" r="1.05"/><circle cx="469.3" cy="84.7" r="1.05"/><circle cx="464.8" cy="85.2" r="1.05"/><circle cx="470.3" cy="87.2" r="1.05"/><circle cx="493.3" cy="87.7" r="1.05"/><circle cx="488.3" cy="88.7" r="1.05"/><circle cx="506.8" cy="88.7" r="1.05"/><circle cx="510.8" cy="89.2" r="1.05"/><circle cx="497.3" cy="89.7" r="1.05"/><circle cx="499.8" cy="89.7" r="1.05"/><circle cx="466.8" cy="90.2" r="1.05"/><circle cx="486.8" cy="90.2" r="1.05"/><circle cx="492.8" cy="90.2" r="1.05"/><circle cx="516.3" cy="91.2" r="1.05"/><circle cx="466.3" cy="92.2" r="1.05"/><circle cx="506.8" cy="93.2" r="1.05"/><circle cx="470.8" cy="93.7" r="1.05"/><circle cx="515.3" cy="94.2" r="1.05"/><circle cx="497.8" cy="94.7" r="1.05"/><circle cx="467.3" cy="95.7" r="1.05"/><circle cx="469.3" cy="95.7" r="1.05"/><circle cx="499.3" cy="96.2" r="1.05"/><circle cx="476.3" cy="96.7" r="1.05"/><circle cx="503.3" cy="96.7" r="1.05"/><circle cx="501.3" cy="98.2" r="1.05"/><circle cx="464.3" cy="98.7" r="1.05"/><circle cx="466.3" cy="98.7" r="1.05"/><circle cx="470.3" cy="100.2" r="1.05"/><circle cx="514.8" cy="100.2" r="1.05"/><circle cx="464.8" cy="101.2" r="1.05"/><circle cx="485.3" cy="101.2" r="1.05"/><circle cx="476.8" cy="101.7" r="1.05"/><circle cx="493.3" cy="101.7" r="1.05"/><circle cx="474.8" cy="102.2" r="1.05"/><circle cx="499.8" cy="102.2" r="1.05"/><circle cx="504.3" cy="102.2" r="1.05"/><circle cx="483.8" cy="103.2" r="1.05"/><circle cx="509.3" cy="103.7" r="1.05"/><circle cx="469.3" cy="104.2" r="1.05"/><circle cx="475.3" cy="104.2" r="1.05"/><circle cx="465.8" cy="104.7" r="1.05"/><circle cx="464.3" cy="106.2" r="1.05"/><circle cx="466.3" cy="106.7" r="1.05"/><circle cx="478.8" cy="107.2" r="1.05"/><circle cx="468.3" cy="107.7" r="1.05"/><circle cx="471.8" cy="107.7" r="1.05"/><circle cx="482.3" cy="108.7" r="1.05"/><circle cx="511.8" cy="108.7" r="1.05"/><circle cx="466.3" cy="109.7" r="1.05"/><circle cx="496.8" cy="110.2" r="1.05"/><circle cx="507.8" cy="110.2" r="1.05"/><circle cx="480.8" cy="110.7" r="1.05"/><circle cx="476.8" cy="111.2" r="1.05"/><circle cx="464.3" cy="112.2" r="1.05"/><circle cx="493.8" cy="112.2" r="1.05"/><circle cx="507.3" cy="112.7" r="1.05"/><circle cx="505.8" cy="113.7" r="1.05"/><circle cx="503.8" cy="114.7" r="1.05"/><circle cx="507.8" cy="115.2" r="1.05"/><circle cx="499.3" cy="115.7" r="1.05"/><circle cx="492.3" cy="116.2" r="1.05"/><circle cx="494.8" cy="116.2" r="1.05"/><circle cx="473.8" cy="117.2" r="1.05"/><circle cx="503.8" cy="117.2" r="1.05"/><circle cx="486.8" cy="119.2" r="1.05"/></g><g fill="#fff" opacity="0.2"><circle cx="495.8" cy="58.7" r="1.06"/><circle cx="493.8" cy="59.7" r="1.06"/><circle cx="497.3" cy="59.7" r="1.06"/><circle cx="491.8" cy="60.7" r="1.06"/><circle cx="485.8" cy="61.7" r="1.06"/><circle cx="503.8" cy="62.2" r="1.06"/><circle cx="487.8" cy="62.7" r="1.06"/><circle cx="508.8" cy="63.2" r="1.06"/><circle cx="489.3" cy="63.7" r="1.06"/><circle cx="481.3" cy="64.2" r="1.06"/><circle cx="483.8" cy="64.2" r="1.06"/><circle cx="505.3" cy="65.7" r="1.06"/><circle cx="487.3" cy="74.2" r="1.06"/><circle cx="515.3" cy="74.7" r="1.06"/><circle cx="512.3" cy="77.7" r="1.06"/><circle cx="468.8" cy="79.2" r="1.06"/><circle cx="514.8" cy="79.7" r="1.06"/><circle cx="471.3" cy="80.2" r="1.06"/><circle cx="465.3" cy="80.7" r="1.06"/><circle cx="467.3" cy="80.7" r="1.06"/><circle cx="502.3" cy="81.7" r="1.06"/><circle cx="497.3" cy="82.7" r="1.06"/><circle cx="515.3" cy="83.2" r="1.06"/><circle cx="517.3" cy="83.2" r="1.06"/><circle cx="513.8" cy="85.7" r="1.06"/><circle cx="465.3" cy="88.2" r="1.06"/><circle cx="467.8" cy="88.2" r="1.06"/><circle cx="490.8" cy="89.2" r="1.06"/><circle cx="504.8" cy="89.7" r="1.06"/><circle cx="502.3" cy="90.7" r="1.06"/><circle cx="495.3" cy="91.2" r="1.06"/><circle cx="485.3" cy="92.2" r="1.06"/><circle cx="509.3" cy="92.2" r="1.06"/><circle cx="500.3" cy="94.2" r="1.06"/><circle cx="497.3" cy="97.2" r="1.06"/><circle cx="468.3" cy="97.7" r="1.06"/><circle cx="511.3" cy="98.2" r="1.06"/><circle cx="490.3" cy="98.7" r="1.06"/><circle cx="498.3" cy="98.7" r="1.06"/><circle cx="471.8" cy="99.7" r="1.06"/><circle cx="499.3" cy="100.2" r="1.06"/><circle cx="507.3" cy="100.7" r="1.06"/><circle cx="501.8" cy="101.2" r="1.06"/><circle cx="487.8" cy="101.7" r="1.06"/><circle cx="512.8" cy="101.7" r="1.06"/><circle cx="466.3" cy="102.7" r="1.06"/><circle cx="491.8" cy="102.7" r="1.06"/><circle cx="467.3" cy="103.2" r="1.06"/><circle cx="497.3" cy="103.2" r="1.06"/><circle cx="473.3" cy="103.7" r="1.06"/><circle cx="486.3" cy="103.7" r="1.06"/><circle cx="494.8" cy="105.2" r="1.06"/><circle cx="498.3" cy="107.7" r="1.06"/><circle cx="505.8" cy="107.7" r="1.06"/><circle cx="469.3" cy="108.7" r="1.06"/><circle cx="509.3" cy="108.7" r="1.06"/><circle cx="494.3" cy="109.7" r="1.06"/><circle cx="490.3" cy="110.2" r="1.06"/><circle cx="474.3" cy="111.2" r="1.06"/><circle cx="467.3" cy="111.7" r="1.06"/><circle cx="501.3" cy="112.2" r="1.06"/><circle cx="472.3" cy="112.7" r="1.06"/><circle cx="489.8" cy="112.7" r="1.06"/><circle cx="499.3" cy="113.2" r="1.06"/><circle cx="491.8" cy="113.7" r="1.06"/><circle cx="466.3" cy="115.2" r="1.06"/><circle cx="500.8" cy="117.2" r="1.06"/></g><g fill="#fff" opacity="0.24"><circle cx="498.3" cy="58.2" r="1.07"/><circle cx="501.3" cy="61.2" r="1.07"/><circle cx="485.8" cy="64.2" r="1.07"/><circle cx="502.8" cy="68.7" r="1.07"/><circle cx="505.3" cy="69.7" r="1.07"/><circle cx="509.8" cy="71.7" r="1.07"/><circle cx="503.3" cy="76.7" r="1.07"/><circle cx="505.8" cy="77.7" r="1.07"/><circle cx="484.3" cy="81.7" r="1.07"/><circle cx="507.3" cy="82.7" r="1.07"/><circle cx="486.8" cy="84.7" r="1.07"/><circle cx="509.3" cy="85.2" r="1.07"/><circle cx="490.3" cy="87.2" r="1.07"/><circle cx="513.3" cy="88.2" r="1.07"/><circle cx="512.3" cy="92.2" r="1.07"/><circle cx="495.8" cy="93.2" r="1.07"/><circle cx="502.8" cy="93.2" r="1.07"/><circle cx="515.3" cy="97.7" r="1.07"/><circle cx="505.3" cy="99.7" r="1.07"/><circle cx="490.8" cy="100.7" r="1.07"/><circle cx="496.3" cy="101.2" r="1.07"/><circle cx="468.3" cy="101.7" r="1.07"/><circle cx="470.8" cy="102.2" r="1.07"/><circle cx="488.8" cy="103.2" r="1.07"/><circle cx="501.3" cy="103.7" r="1.07"/><circle cx="493.8" cy="104.2" r="1.07"/><circle cx="471.3" cy="105.7" r="1.07"/><circle cx="483.3" cy="106.7" r="1.07"/><circle cx="487.8" cy="106.7" r="1.07"/><circle cx="489.8" cy="106.7" r="1.07"/><circle cx="501.8" cy="107.2" r="1.07"/><circle cx="502.3" cy="109.2" r="1.07"/><circle cx="497.3" cy="112.2" r="1.07"/><circle cx="504.3" cy="112.2" r="1.07"/><circle cx="470.8" cy="114.2" r="1.07"/><circle cx="468.8" cy="116.2" r="1.07"/></g><g fill="#fff" opacity="0.28"><circle cx="495.3" cy="63.2" r="1.08"/><circle cx="499.3" cy="63.2" r="1.08"/><circle cx="492.8" cy="63.7" r="1.08"/><circle cx="487.3" cy="67.2" r="1.08"/><circle cx="497.8" cy="67.2" r="1.08"/><circle cx="485.3" cy="73.2" r="1.08"/><circle cx="482.8" cy="74.2" r="1.08"/><circle cx="510.8" cy="74.2" r="1.08"/><circle cx="485.3" cy="79.7" r="1.08"/><circle cx="504.8" cy="79.7" r="1.08"/><circle cx="507.8" cy="80.2" r="1.08"/><circle cx="512.3" cy="80.2" r="1.08"/><circle cx="509.8" cy="81.2" r="1.08"/><circle cx="500.3" cy="82.2" r="1.08"/><circle cx="513.3" cy="82.7" r="1.08"/><circle cx="494.8" cy="83.2" r="1.08"/><circle cx="484.3" cy="84.7" r="1.08"/><circle cx="503.8" cy="84.7" r="1.08"/><circle cx="495.3" cy="85.2" r="1.08"/><circle cx="497.3" cy="86.7" r="1.08"/><circle cx="504.3" cy="87.2" r="1.08"/><circle cx="510.8" cy="87.2" r="1.08"/><circle cx="513.8" cy="90.2" r="1.08"/><circle cx="506.8" cy="91.2" r="1.08"/><circle cx="513.3" cy="96.2" r="1.08"/><circle cx="477.3" cy="98.7" r="1.08"/><circle cx="506.8" cy="103.2" r="1.08"/><circle cx="503.3" cy="104.7" r="1.08"/><circle cx="497.8" cy="105.2" r="1.08"/><circle cx="505.8" cy="105.2" r="1.08"/><circle cx="492.3" cy="105.7" r="1.08"/><circle cx="499.3" cy="106.2" r="1.08"/><circle cx="486.3" cy="108.7" r="1.08"/><circle cx="504.8" cy="110.2" r="1.08"/><circle cx="470.3" cy="111.2" r="1.08"/><circle cx="468.3" cy="114.2" r="1.08"/><circle cx="471.3" cy="116.7" r="1.08"/></g><g fill="#fff" opacity="0.32"><circle cx="497.3" cy="62.2" r="1.1"/><circle cx="503.3" cy="64.7" r="1.1"/><circle cx="483.8" cy="67.7" r="1.1"/><circle cx="502.8" cy="72.2" r="1.1"/><circle cx="500.3" cy="75.2" r="1.1"/><circle cx="509.8" cy="76.2" r="1.1"/><circle cx="508.3" cy="77.7" r="1.1"/><circle cx="493.8" cy="78.7" r="1.1"/><circle cx="487.3" cy="82.2" r="1.1"/><circle cx="489.3" cy="85.2" r="1.1"/><circle cx="499.8" cy="86.7" r="1.1"/><circle cx="508.3" cy="86.7" r="1.1"/><circle cx="504.8" cy="94.7" r="1.1"/><circle cx="511.3" cy="94.7" r="1.1"/><circle cx="479.8" cy="97.2" r="1.1"/><circle cx="486.3" cy="99.2" r="1.1"/><circle cx="485.3" cy="105.2" r="1.1"/><circle cx="491.8" cy="108.7" r="1.1"/></g><g fill="#fff" opacity="0.36"><circle cx="499.8" cy="65.7" r="1.11"/><circle cx="489.3" cy="66.2" r="1.11"/><circle cx="495.3" cy="68.2" r="1.11"/><circle cx="494.8" cy="69.2" r="1.11"/><circle cx="484.3" cy="69.7" r="1.11"/><circle cx="489.3" cy="71.7" r="1.11"/><circle cx="482.8" cy="72.2" r="1.11"/><circle cx="503.3" cy="74.7" r="1.11"/><circle cx="484.8" cy="75.7" r="1.11"/><circle cx="486.3" cy="77.2" r="1.11"/><circle cx="494.8" cy="81.2" r="1.11"/><circle cx="504.3" cy="82.2" r="1.11"/><circle cx="509.8" cy="83.7" r="1.11"/><circle cx="511.8" cy="84.7" r="1.11"/><circle cx="501.8" cy="85.7" r="1.11"/><circle cx="506.3" cy="85.7" r="1.11"/><circle cx="506.8" cy="95.7" r="1.11"/><circle cx="489.8" cy="105.2" r="1.11"/></g><g fill="#fff" opacity="0.4"><circle cx="491.3" cy="65.2" r="1.12"/><circle cx="486.8" cy="69.7" r="1.12"/><circle cx="489.8" cy="69.7" r="1.12"/><circle cx="500.8" cy="70.7" r="1.12"/><circle cx="501.3" cy="78.7" r="1.12"/><circle cx="509.3" cy="94.7" r="1.12"/><circle cx="481.8" cy="99.2" r="1.12"/><circle cx="478.8" cy="101.7" r="1.12"/></g><g fill="#fff" opacity="0.44"><circle cx="497.3" cy="69.2" r="1.13"/><circle cx="499.8" cy="72.7" r="1.13"/><circle cx="497.3" cy="79.2" r="1.13"/><circle cx="490.8" cy="81.2" r="1.13"/><circle cx="490.3" cy="83.2" r="1.13"/></g><g fill="#fff" opacity="0.48"><circle cx="491.3" cy="71.2" r="1.14"/><circle cx="491.3" cy="78.7" r="1.14"/></g><g fill="#fff" opacity="0.52"><circle cx="490.8" cy="67.2" r="1.16"/><circle cx="492.8" cy="68.7" r="1.16"/><circle cx="497.3" cy="71.7" r="1.16"/><circle cx="491.3" cy="73.7" r="1.16"/><circle cx="489.8" cy="75.7" r="1.16"/><circle cx="497.3" cy="76.7" r="1.16"/><circle cx="488.8" cy="77.7" r="1.16"/><circle cx="498.8" cy="78.7" r="1.16"/><circle cx="488.3" cy="79.7" r="1.16"/><circle cx="486.8" cy="97.2" r="1.16"/></g><g fill="#fff" opacity="0.56"><circle cx="495.3" cy="72.2" r="1.17"/><circle cx="492.8" cy="73.2" r="1.17"/><circle cx="495.3" cy="75.7" r="1.17"/><circle cx="495.3" cy="77.2" r="1.17"/></g><g fill="#fff" opacity="0.64"><circle cx="483.8" cy="97.7" r="1.19"/><circle cx="479.8" cy="99.7" r="1.19"/></g><g fill="#fff" opacity="0.72"><circle cx="485.3" cy="94.2" r="1.22"/><circle cx="486.3" cy="95.7" r="1.22"/></g><g fill="#fff" opacity="1"><circle cx="484.3" cy="95.7" r="1.3"/></g></g></g>
<g clip-path="url(#clip_off)">
<g filter="url(#vir)"><rect x="422.3" y="232.7" width="121.9" height="121.4" fill="#000"/><rect x="422.3" y="232.7" width="121.9" height="121.4" fill="#fff" opacity="0.05"/><ellipse cx="483.6" cy="288.7" rx="27" ry="27" fill="#fff" opacity="0.06" filter="url(#hz2)"/><ellipse cx="489.3" cy="277.2" rx="15.6" ry="4.16" fill="#fff" opacity="0.038" filter="url(#hz)"/><ellipse cx="510.7" cy="265.2" rx="4.55" ry="5.85" fill="#fff" opacity="0.041" filter="url(#hz)"/><ellipse cx="481.8" cy="298.7" rx="6.5" ry="3.9" fill="#fff" opacity="0.031" filter="url(#hz)"/><ellipse cx="467.3" cy="270.2" rx="11.7" ry="3.25" fill="#fff" opacity="0.024" filter="url(#hz)"/><ellipse cx="483.3" cy="272.7" rx="31.2" ry="11.7" fill="#fff" opacity="0.013" filter="url(#hz)"/><ellipse cx="486.3" cy="262.7" rx="28.6" ry="4.55" fill="#fff" opacity="0.012" filter="url(#hz)"/><ellipse cx="498.3" cy="268.7" rx="9.1" ry="6.5" fill="#fff" opacity="0.014" filter="url(#hz)"/><ellipse cx="483.3" cy="292.7" rx="28.6" ry="16.9" fill="#fff" opacity="0.006" filter="url(#hz)"/><ellipse cx="483.3" cy="311.7" rx="19.5" ry="11.7" fill="#fff" opacity="0.004" filter="url(#hz)"/><ellipse cx="472.3" cy="307.7" rx="5.2" ry="10.4" fill="#fff" opacity="0.007" filter="url(#hz)"/><path d="M422.3 260.3h31c5 0 7 2 9 6" fill="none" stroke="#fff" stroke-width="3.3" opacity="0.42"/><path d="M544.2 260.3h-31c-5 0 -7 2 -9 5" fill="none" stroke="#fff" stroke-width="3.3" opacity="0.40"/><path d="M544.2 326.7h-28c-6 0 -8 -3 -12 -8" fill="none" stroke="#fff" stroke-width="2.5" opacity="0.025"/><path d="M518.57 297.91L576.37 309.74M517.87 300.76L574.52 317.24M515.88 306.01L569.29 331.09M512.74 311.42L560.99 345.38M509.43 315.46L552.26 356.04M503.96 320.18L537.82 368.5M500.87 322.12L529.65 373.62M493.06 325.35L509.05 382.14M487.65 326.44L494.79 385M485.09 326.66L488.02 385.58M477.52 326.23L468.05 384.47M473.53 325.35L457.52 382.13M467.74 323.16L442.23 376.36M462.38 320L428.1 368.02M457.96 316.27L416.44 358.19M454.24 311.95L406.62 346.78M450.55 305.66L396.89 330.17M449.34 302.65L393.68 322.23M447.94 297.44L389.98 308.48M448.03 283.49L390.23 271.66M449.56 278.14L394.27 257.55M451.87 273.15L400.36 244.38M453.28 270.83L404.08 238.26M458.98 264.16L419.12 220.66M462.58 261.26L428.61 213.02M468.16 258.04L443.35 204.51M471.86 256.57L453.11 200.62M476.67 255.32L465.81 197.32M484.35 254.72L486.08 195.74M489.51 255.24L499.68 197.12M495.37 256.79L515.16 201.2M498.68 258.15L523.88 204.8M503.38 260.82L536.29 211.85M509.42 265.92L552.22 225.32M511.38 268.17L557.39 231.24M516.07 275.8L569.78 251.38M517.11 278.33L572.52 258.07M518.91 285.42L577.27 276.78" stroke="#fff" stroke-width="1.8" opacity="0.028" fill="none" filter="url(#soft)"/><g fill="#fff" opacity="0.04"><circle cx="461.3" cy="253.7" r="1.01"/><circle cx="465.8" cy="253.7" r="1.01"/><circle cx="486.8" cy="253.7" r="1.01"/><circle cx="479.3" cy="254.2" r="1.01"/><circle cx="507.3" cy="254.2" r="1.01"/><circle cx="514.8" cy="254.2" r="1.01"/><circle cx="473.3" cy="254.7" r="1.01"/><circle cx="484.3" cy="254.7" r="1.01"/><circle cx="493.8" cy="254.7" r="1.01"/><circle cx="457.3" cy="255.2" r="1.01"/><circle cx="463.8" cy="255.2" r="1.01"/><circle cx="467.3" cy="255.2" r="1.01"/><circle cx="470.3" cy="255.2" r="1.01"/><circle cx="475.8" cy="255.7" r="1.01"/><circle cx="517.3" cy="255.7" r="1.01"/><circle cx="459.3" cy="256.2" r="1.01"/><circle cx="519.3" cy="256.2" r="1.01"/><circle cx="462.8" cy="257.2" r="1.01"/><circle cx="521.8" cy="257.2" r="1.01"/><circle cx="446.8" cy="257.7" r="1.01"/><circle cx="452.3" cy="257.7" r="1.01"/><circle cx="449.8" cy="258.7" r="1.01"/><circle cx="523.8" cy="258.7" r="1.01"/><circle cx="528.8" cy="258.7" r="1.01"/><circle cx="444.8" cy="259.2" r="1.01"/><circle cx="525.8" cy="259.2" r="1.01"/><circle cx="448.3" cy="259.7" r="1.01"/><circle cx="439.8" cy="260.2" r="1.01"/><circle cx="524.8" cy="260.2" r="1.01"/><circle cx="529.8" cy="260.7" r="1.01"/><circle cx="437.8" cy="261.2" r="1.01"/><circle cx="531.8" cy="261.7" r="1.01"/><circle cx="536.8" cy="261.7" r="1.01"/><circle cx="442.8" cy="262.7" r="1.01"/><circle cx="436.3" cy="263.2" r="1.01"/><circle cx="528.8" cy="263.2" r="1.01"/><circle cx="526.8" cy="263.7" r="1.01"/><circle cx="434.3" cy="264.2" r="1.01"/><circle cx="438.8" cy="264.2" r="1.01"/><circle cx="531.3" cy="264.2" r="1.01"/><circle cx="439.8" cy="266.2" r="1.01"/><circle cx="434.8" cy="266.7" r="1.01"/><circle cx="531.3" cy="266.7" r="1.01"/><circle cx="534.3" cy="267.2" r="1.01"/><circle cx="437.8" cy="268.2" r="1.01"/><circle cx="440.8" cy="268.2" r="1.01"/><circle cx="442.3" cy="268.2" r="1.01"/><circle cx="525.3" cy="268.2" r="1.01"/><circle cx="529.8" cy="268.2" r="1.01"/><circle cx="435.8" cy="268.7" r="1.01"/><circle cx="527.3" cy="269.7" r="1.01"/><circle cx="437.8" cy="270.2" r="1.01"/><circle cx="440.3" cy="270.2" r="1.01"/><circle cx="532.8" cy="271.2" r="1.01"/><circle cx="433.8" cy="272.2" r="1.01"/><circle cx="436.8" cy="272.2" r="1.01"/><circle cx="522.3" cy="272.7" r="1.01"/><circle cx="530.8" cy="272.7" r="1.01"/><circle cx="523.8" cy="273.2" r="1.01"/><circle cx="438.3" cy="273.7" r="1.01"/><circle cx="442.3" cy="274.2" r="1.01"/><circle cx="524.3" cy="275.2" r="1.01"/><circle cx="528.8" cy="275.2" r="1.01"/><circle cx="531.8" cy="275.2" r="1.01"/><circle cx="439.3" cy="275.7" r="1.01"/><circle cx="444.3" cy="275.7" r="1.01"/><circle cx="441.8" cy="276.7" r="1.01"/><circle cx="527.8" cy="277.2" r="1.01"/><circle cx="439.8" cy="277.7" r="1.01"/><circle cx="444.3" cy="278.7" r="1.01"/><circle cx="431.8" cy="279.2" r="1.01"/><circle cx="435.8" cy="279.2" r="1.01"/><circle cx="441.8" cy="279.2" r="1.01"/><circle cx="433.8" cy="280.7" r="1.01"/><circle cx="445.3" cy="280.7" r="1.01"/><circle cx="526.3" cy="281.2" r="1.01"/><circle cx="439.8" cy="281.7" r="1.01"/><circle cx="449.3" cy="281.7" r="1.01"/><circle cx="450.3" cy="281.7" r="1.01"/><circle cx="443.8" cy="282.2" r="1.01"/><circle cx="524.3" cy="282.2" r="1.01"/><circle cx="527.8" cy="283.2" r="1.01"/><circle cx="450.3" cy="283.7" r="1.01"/><circle cx="523.3" cy="284.7" r="1.01"/><circle cx="449.3" cy="285.7" r="1.01"/><circle cx="451.8" cy="285.7" r="1.01"/><circle cx="444.8" cy="286.7" r="1.01"/><circle cx="449.8" cy="287.7" r="1.01"/><circle cx="523.8" cy="288.2" r="1.01"/><circle cx="450.8" cy="289.7" r="1.01"/><circle cx="448.3" cy="290.2" r="1.01"/><circle cx="513.3" cy="290.7" r="1.01"/><circle cx="524.3" cy="290.7" r="1.01"/><circle cx="452.3" cy="291.2" r="1.01"/><circle cx="449.3" cy="291.7" r="1.01"/><circle cx="447.3" cy="292.7" r="1.01"/><circle cx="448.8" cy="294.2" r="1.01"/><circle cx="521.8" cy="294.7" r="1.01"/><circle cx="524.3" cy="295.7" r="1.01"/><circle cx="522.3" cy="296.7" r="1.01"/><circle cx="447.8" cy="297.2" r="1.01"/><circle cx="453.3" cy="297.7" r="1.01"/><circle cx="450.8" cy="298.7" r="1.01"/><circle cx="520.3" cy="299.2" r="1.01"/><circle cx="449.3" cy="300.2" r="1.01"/><circle cx="517.8" cy="301.2" r="1.01"/><circle cx="521.3" cy="301.2" r="1.01"/><circle cx="450.3" cy="302.2" r="1.01"/><circle cx="452.8" cy="303.2" r="1.01"/><circle cx="520.3" cy="303.7" r="1.01"/><circle cx="514.3" cy="304.2" r="1.01"/><circle cx="449.8" cy="304.7" r="1.01"/><circle cx="515.3" cy="304.7" r="1.01"/><circle cx="522.3" cy="304.7" r="1.01"/><circle cx="455.3" cy="305.2" r="1.01"/><circle cx="452.3" cy="305.7" r="1.01"/><circle cx="515.3" cy="306.2" r="1.01"/><circle cx="450.3" cy="307.2" r="1.01"/><circle cx="455.8" cy="307.2" r="1.01"/><circle cx="522.8" cy="307.2" r="1.01"/><circle cx="519.8" cy="307.7" r="1.01"/><circle cx="451.3" cy="309.2" r="1.01"/><circle cx="454.3" cy="309.7" r="1.01"/><circle cx="519.3" cy="310.2" r="1.01"/><circle cx="453.3" cy="311.7" r="1.01"/><circle cx="456.3" cy="312.2" r="1.01"/><circle cx="453.3" cy="314.2" r="1.01"/><circle cx="521.8" cy="314.2" r="1.01"/><circle cx="455.8" cy="315.2" r="1.01"/><circle cx="504.3" cy="316.7" r="1.01"/><circle cx="460.8" cy="317.7" r="1.01"/><circle cx="521.8" cy="317.7" r="1.01"/><circle cx="513.8" cy="318.2" r="1.01"/><circle cx="456.3" cy="319.2" r="1.01"/><circle cx="518.3" cy="319.2" r="1.01"/><circle cx="521.3" cy="319.7" r="1.01"/><circle cx="459.8" cy="320.2" r="1.01"/><circle cx="507.8" cy="320.2" r="1.01"/><circle cx="514.3" cy="320.2" r="1.01"/><circle cx="505.3" cy="320.7" r="1.01"/><circle cx="455.3" cy="321.2" r="1.01"/><circle cx="519.3" cy="321.2" r="1.01"/><circle cx="457.3" cy="321.7" r="1.01"/><circle cx="461.3" cy="322.2" r="1.01"/><circle cx="514.8" cy="322.2" r="1.01"/><circle cx="465.3" cy="322.7" r="1.01"/><circle cx="506.3" cy="322.7" r="1.01"/><circle cx="512.3" cy="322.7" r="1.01"/><circle cx="456.8" cy="323.7" r="1.01"/><circle cx="467.8" cy="323.7" r="1.01"/><circle cx="471.3" cy="323.7" r="1.01"/><circle cx="518.3" cy="323.7" r="1.01"/><circle cx="461.8" cy="324.2" r="1.01"/><circle cx="508.8" cy="324.2" r="1.01"/><circle cx="515.8" cy="324.2" r="1.01"/><circle cx="520.8" cy="324.7" r="1.01"/><circle cx="473.3" cy="325.2" r="1.01"/><circle cx="489.3" cy="325.2" r="1.01"/><circle cx="511.3" cy="325.2" r="1.01"/><circle cx="456.8" cy="325.7" r="1.01"/><circle cx="504.3" cy="325.7" r="1.01"/><circle cx="506.8" cy="325.7" r="1.01"/><circle cx="476.8" cy="326.2" r="1.01"/><circle cx="482.8" cy="326.2" r="1.01"/><circle cx="485.8" cy="326.2" r="1.01"/><circle cx="492.3" cy="326.2" r="1.01"/><circle cx="508.8" cy="326.2" r="1.01"/><circle cx="465.3" cy="326.7" r="1.01"/><circle cx="498.8" cy="326.7" r="1.01"/><circle cx="479.8" cy="327.2" r="1.01"/><circle cx="488.3" cy="327.2" r="1.01"/><circle cx="502.3" cy="327.2" r="1.01"/><circle cx="512.8" cy="327.2" r="1.01"/><circle cx="490.3" cy="328.2" r="1.01"/><circle cx="460.8" cy="328.7" r="1.01"/><circle cx="477.8" cy="328.7" r="1.01"/><circle cx="497.3" cy="328.7" r="1.01"/></g><g fill="#fff" opacity="0.08"><circle cx="498.8" cy="254.7" r="1.02"/><circle cx="505.3" cy="255.2" r="1.02"/><circle cx="487.3" cy="255.7" r="1.02"/><circle cx="500.8" cy="256.2" r="1.02"/><circle cx="479.8" cy="256.7" r="1.02"/><circle cx="482.8" cy="256.7" r="1.02"/><circle cx="467.8" cy="257.2" r="1.02"/><circle cx="470.3" cy="257.7" r="1.02"/><circle cx="477.8" cy="257.7" r="1.02"/><circle cx="472.3" cy="258.2" r="1.02"/><circle cx="518.3" cy="258.2" r="1.02"/><circle cx="462.8" cy="258.7" r="1.02"/><circle cx="519.8" cy="259.7" r="1.02"/><circle cx="445.8" cy="261.2" r="1.02"/><circle cx="451.3" cy="261.2" r="1.02"/><circle cx="521.8" cy="261.2" r="1.02"/><circle cx="440.3" cy="262.2" r="1.02"/><circle cx="524.3" cy="262.7" r="1.02"/><circle cx="444.3" cy="264.7" r="1.02"/><circle cx="445.8" cy="266.7" r="1.02"/><circle cx="444.8" cy="269.2" r="1.02"/><circle cx="523.3" cy="269.2" r="1.02"/><circle cx="442.8" cy="271.2" r="1.02"/><circle cx="524.8" cy="271.2" r="1.02"/><circle cx="444.8" cy="272.2" r="1.02"/><circle cx="528.3" cy="272.7" r="1.02"/><circle cx="526.3" cy="273.2" r="1.02"/><circle cx="445.8" cy="274.7" r="1.02"/><circle cx="446.8" cy="276.2" r="1.02"/><circle cx="525.3" cy="277.7" r="1.02"/><circle cx="523.3" cy="278.2" r="1.02"/><circle cx="450.8" cy="279.2" r="1.02"/><circle cx="521.8" cy="280.2" r="1.02"/><circle cx="519.3" cy="282.7" r="1.02"/><circle cx="521.8" cy="282.7" r="1.02"/><circle cx="453.3" cy="283.2" r="1.02"/><circle cx="515.3" cy="285.2" r="1.02"/><circle cx="509.3" cy="286.2" r="1.02"/><circle cx="513.3" cy="286.2" r="1.02"/><circle cx="521.8" cy="286.7" r="1.02"/><circle cx="511.8" cy="287.7" r="1.02"/><circle cx="452.3" cy="289.2" r="1.02"/><circle cx="520.3" cy="289.2" r="1.02"/><circle cx="510.8" cy="289.7" r="1.02"/><circle cx="516.3" cy="289.7" r="1.02"/><circle cx="521.8" cy="291.2" r="1.02"/><circle cx="511.8" cy="291.7" r="1.02"/><circle cx="454.8" cy="292.2" r="1.02"/><circle cx="470.3" cy="292.7" r="1.02"/><circle cx="523.3" cy="292.7" r="1.02"/><circle cx="451.3" cy="293.2" r="1.02"/><circle cx="513.3" cy="293.7" r="1.02"/><circle cx="515.8" cy="293.7" r="1.02"/><circle cx="519.8" cy="293.7" r="1.02"/><circle cx="461.3" cy="294.7" r="1.02"/><circle cx="517.8" cy="294.7" r="1.02"/><circle cx="452.8" cy="295.2" r="1.02"/><circle cx="510.8" cy="295.2" r="1.02"/><circle cx="515.3" cy="295.2" r="1.02"/><circle cx="463.3" cy="295.7" r="1.02"/><circle cx="507.3" cy="295.7" r="1.02"/><circle cx="516.3" cy="296.2" r="1.02"/><circle cx="518.3" cy="297.7" r="1.02"/><circle cx="517.3" cy="298.7" r="1.02"/><circle cx="510.3" cy="299.2" r="1.02"/><circle cx="512.3" cy="300.2" r="1.02"/><circle cx="499.3" cy="300.7" r="1.02"/><circle cx="454.8" cy="302.7" r="1.02"/><circle cx="512.8" cy="302.7" r="1.02"/><circle cx="459.8" cy="303.2" r="1.02"/><circle cx="465.3" cy="303.2" r="1.02"/><circle cx="462.8" cy="304.2" r="1.02"/><circle cx="506.3" cy="304.2" r="1.02"/><circle cx="502.8" cy="304.7" r="1.02"/><circle cx="512.8" cy="305.2" r="1.02"/><circle cx="464.3" cy="306.7" r="1.02"/><circle cx="505.3" cy="306.7" r="1.02"/><circle cx="459.8" cy="307.2" r="1.02"/><circle cx="517.3" cy="307.2" r="1.02"/><circle cx="453.3" cy="307.7" r="1.02"/><circle cx="513.8" cy="307.7" r="1.02"/><circle cx="463.3" cy="308.2" r="1.02"/><circle cx="503.3" cy="308.2" r="1.02"/><circle cx="457.8" cy="308.7" r="1.02"/><circle cx="456.8" cy="310.2" r="1.02"/><circle cx="461.3" cy="310.2" r="1.02"/><circle cx="511.8" cy="310.2" r="1.02"/><circle cx="516.8" cy="310.2" r="1.02"/><circle cx="458.8" cy="310.7" r="1.02"/><circle cx="500.8" cy="310.7" r="1.02"/><circle cx="505.8" cy="311.2" r="1.02"/><circle cx="509.8" cy="311.7" r="1.02"/><circle cx="460.3" cy="312.2" r="1.02"/><circle cx="462.8" cy="312.2" r="1.02"/><circle cx="520.3" cy="312.2" r="1.02"/><circle cx="514.8" cy="312.7" r="1.02"/><circle cx="517.3" cy="312.7" r="1.02"/><circle cx="499.8" cy="313.2" r="1.02"/><circle cx="507.8" cy="313.2" r="1.02"/><circle cx="503.8" cy="314.2" r="1.02"/><circle cx="518.8" cy="314.2" r="1.02"/><circle cx="460.3" cy="314.7" r="1.02"/><circle cx="493.8" cy="314.7" r="1.02"/><circle cx="513.8" cy="314.7" r="1.02"/><circle cx="508.3" cy="315.2" r="1.02"/><circle cx="516.3" cy="315.2" r="1.02"/><circle cx="458.8" cy="316.2" r="1.02"/><circle cx="519.8" cy="316.2" r="1.02"/><circle cx="462.8" cy="316.7" r="1.02"/><circle cx="500.8" cy="316.7" r="1.02"/><circle cx="457.3" cy="317.2" r="1.02"/><circle cx="507.8" cy="317.2" r="1.02"/><circle cx="511.3" cy="317.2" r="1.02"/><circle cx="517.8" cy="317.2" r="1.02"/><circle cx="494.8" cy="317.7" r="1.02"/><circle cx="474.8" cy="318.2" r="1.02"/><circle cx="502.8" cy="318.2" r="1.02"/><circle cx="505.8" cy="318.7" r="1.02"/><circle cx="496.8" cy="319.2" r="1.02"/><circle cx="509.8" cy="319.2" r="1.02"/><circle cx="477.8" cy="319.7" r="1.02"/><circle cx="480.3" cy="319.7" r="1.02"/><circle cx="482.3" cy="320.2" r="1.02"/><circle cx="463.8" cy="320.7" r="1.02"/><circle cx="488.8" cy="320.7" r="1.02"/><circle cx="502.3" cy="320.7" r="1.02"/><circle cx="511.3" cy="320.7" r="1.02"/><circle cx="479.8" cy="321.2" r="1.02"/><circle cx="498.3" cy="321.2" r="1.02"/><circle cx="469.8" cy="321.7" r="1.02"/><circle cx="485.8" cy="321.7" r="1.02"/><circle cx="494.3" cy="321.7" r="1.02"/><circle cx="490.8" cy="322.2" r="1.02"/><circle cx="501.3" cy="322.7" r="1.02"/><circle cx="496.3" cy="323.2" r="1.02"/><circle cx="503.3" cy="323.2" r="1.02"/><circle cx="475.3" cy="323.7" r="1.02"/><circle cx="481.3" cy="323.7" r="1.02"/><circle cx="492.3" cy="324.2" r="1.02"/><circle cx="479.3" cy="324.7" r="1.02"/><circle cx="497.3" cy="325.2" r="1.02"/><circle cx="502.3" cy="325.2" r="1.02"/></g><g fill="#fff" opacity="0.12"><circle cx="509.8" cy="255.2" r="1.04"/><circle cx="507.3" cy="256.7" r="1.04"/><circle cx="493.3" cy="257.2" r="1.04"/><circle cx="454.8" cy="258.7" r="1.04"/><circle cx="459.8" cy="258.7" r="1.04"/><circle cx="457.3" cy="259.2" r="1.04"/><circle cx="473.8" cy="259.7" r="1.04"/><circle cx="453.3" cy="260.7" r="1.04"/><circle cx="446.8" cy="263.2" r="1.04"/><circle cx="451.3" cy="263.7" r="1.04"/><circle cx="448.8" cy="264.2" r="1.04"/><circle cx="519.8" cy="265.2" r="1.04"/><circle cx="449.8" cy="265.7" r="1.04"/><circle cx="450.3" cy="267.7" r="1.04"/><circle cx="519.8" cy="270.7" r="1.04"/><circle cx="507.3" cy="275.2" r="1.04"/><circle cx="521.3" cy="276.7" r="1.04"/><circle cx="452.3" cy="277.2" r="1.04"/><circle cx="448.3" cy="278.2" r="1.04"/><circle cx="519.3" cy="279.7" r="1.04"/><circle cx="517.3" cy="282.2" r="1.04"/><circle cx="463.3" cy="282.7" r="1.04"/><circle cx="502.8" cy="282.7" r="1.04"/><circle cx="458.8" cy="283.2" r="1.04"/><circle cx="461.3" cy="283.2" r="1.04"/><circle cx="513.3" cy="283.7" r="1.04"/><circle cx="510.8" cy="284.2" r="1.04"/><circle cx="517.8" cy="284.7" r="1.04"/><circle cx="468.3" cy="285.2" r="1.04"/><circle cx="467.3" cy="285.7" r="1.04"/><circle cx="502.8" cy="285.7" r="1.04"/><circle cx="485.8" cy="286.2" r="1.04"/><circle cx="519.3" cy="286.2" r="1.04"/><circle cx="504.3" cy="286.7" r="1.04"/><circle cx="508.3" cy="287.7" r="1.04"/><circle cx="455.8" cy="288.2" r="1.04"/><circle cx="518.3" cy="288.2" r="1.04"/><circle cx="458.3" cy="289.2" r="1.04"/><circle cx="503.8" cy="289.2" r="1.04"/><circle cx="465.3" cy="289.7" r="1.04"/><circle cx="489.3" cy="290.2" r="1.04"/><circle cx="508.3" cy="290.2" r="1.04"/><circle cx="456.8" cy="290.7" r="1.04"/><circle cx="505.8" cy="290.7" r="1.04"/><circle cx="467.3" cy="291.2" r="1.04"/><circle cx="491.8" cy="291.2" r="1.04"/><circle cx="462.3" cy="291.7" r="1.04"/><circle cx="460.8" cy="292.2" r="1.04"/><circle cx="504.3" cy="292.2" r="1.04"/><circle cx="517.3" cy="292.2" r="1.04"/><circle cx="509.3" cy="292.7" r="1.04"/><circle cx="506.8" cy="293.2" r="1.04"/><circle cx="468.3" cy="294.7" r="1.04"/><circle cx="505.3" cy="294.7" r="1.04"/><circle cx="455.3" cy="295.2" r="1.04"/><circle cx="474.8" cy="295.2" r="1.04"/><circle cx="509.8" cy="295.7" r="1.04"/><circle cx="458.3" cy="296.2" r="1.04"/><circle cx="465.3" cy="296.2" r="1.04"/><circle cx="467.3" cy="296.7" r="1.04"/><circle cx="511.3" cy="297.2" r="1.04"/><circle cx="514.3" cy="297.2" r="1.04"/><circle cx="455.8" cy="297.7" r="1.04"/><circle cx="506.8" cy="297.7" r="1.04"/><circle cx="464.3" cy="299.2" r="1.04"/><circle cx="456.8" cy="299.7" r="1.04"/><circle cx="461.3" cy="299.7" r="1.04"/><circle cx="515.3" cy="299.7" r="1.04"/><circle cx="504.3" cy="300.2" r="1.04"/><circle cx="506.8" cy="300.2" r="1.04"/><circle cx="458.8" cy="300.7" r="1.04"/><circle cx="462.8" cy="301.2" r="1.04"/><circle cx="496.8" cy="301.2" r="1.04"/><circle cx="508.8" cy="301.2" r="1.04"/><circle cx="457.3" cy="301.7" r="1.04"/><circle cx="515.8" cy="302.7" r="1.04"/><circle cx="510.3" cy="303.2" r="1.04"/><circle cx="460.8" cy="305.2" r="1.04"/><circle cx="465.3" cy="305.2" r="1.04"/><circle cx="494.3" cy="305.2" r="1.04"/><circle cx="498.3" cy="305.2" r="1.04"/><circle cx="508.8" cy="305.2" r="1.04"/><circle cx="483.3" cy="306.7" r="1.04"/><circle cx="496.3" cy="306.7" r="1.04"/><circle cx="500.3" cy="307.2" r="1.04"/><circle cx="508.3" cy="307.7" r="1.04"/><circle cx="498.3" cy="308.7" r="1.04"/><circle cx="509.3" cy="309.7" r="1.04"/><circle cx="514.3" cy="310.2" r="1.04"/><circle cx="482.8" cy="310.7" r="1.04"/><circle cx="493.3" cy="310.7" r="1.04"/><circle cx="503.3" cy="310.7" r="1.04"/><circle cx="488.8" cy="311.2" r="1.04"/><circle cx="486.8" cy="311.7" r="1.04"/><circle cx="481.8" cy="312.2" r="1.04"/><circle cx="512.8" cy="312.2" r="1.04"/><circle cx="467.3" cy="312.7" r="1.04"/><circle cx="497.3" cy="312.7" r="1.04"/><circle cx="501.8" cy="312.7" r="1.04"/><circle cx="469.8" cy="313.2" r="1.04"/><circle cx="488.8" cy="313.2" r="1.04"/><circle cx="491.8" cy="313.7" r="1.04"/><circle cx="462.8" cy="314.7" r="1.04"/><circle cx="496.3" cy="314.7" r="1.04"/><circle cx="466.8" cy="315.2" r="1.04"/><circle cx="474.3" cy="315.2" r="1.04"/><circle cx="488.3" cy="315.7" r="1.04"/><circle cx="498.3" cy="315.7" r="1.04"/><circle cx="472.8" cy="316.2" r="1.04"/><circle cx="485.8" cy="316.7" r="1.04"/><circle cx="490.8" cy="316.7" r="1.04"/><circle cx="477.8" cy="317.2" r="1.04"/><circle cx="498.8" cy="317.7" r="1.04"/><circle cx="465.3" cy="318.2" r="1.04"/><circle cx="488.3" cy="318.2" r="1.04"/><circle cx="492.3" cy="318.2" r="1.04"/><circle cx="467.3" cy="319.2" r="1.04"/><circle cx="486.3" cy="319.2" r="1.04"/><circle cx="490.8" cy="319.2" r="1.04"/><circle cx="500.3" cy="319.7" r="1.04"/><circle cx="473.3" cy="320.2" r="1.04"/><circle cx="475.8" cy="320.7" r="1.04"/><circle cx="483.3" cy="322.2" r="1.04"/><circle cx="477.8" cy="322.7" r="1.04"/></g><g fill="#fff" opacity="0.16"><circle cx="488.8" cy="257.7" r="1.05"/><circle cx="495.3" cy="258.2" r="1.05"/><circle cx="515.3" cy="258.2" r="1.05"/><circle cx="466.8" cy="259.7" r="1.05"/><circle cx="478.3" cy="260.2" r="1.05"/><circle cx="460.8" cy="260.7" r="1.05"/><circle cx="463.3" cy="260.7" r="1.05"/><circle cx="455.3" cy="261.2" r="1.05"/><circle cx="468.8" cy="261.2" r="1.05"/><circle cx="519.3" cy="262.2" r="1.05"/><circle cx="454.3" cy="263.2" r="1.05"/><circle cx="521.8" cy="263.2" r="1.05"/><circle cx="452.3" cy="265.7" r="1.05"/><circle cx="521.3" cy="267.2" r="1.05"/><circle cx="448.3" cy="268.2" r="1.05"/><circle cx="519.3" cy="268.7" r="1.05"/><circle cx="447.3" cy="270.2" r="1.05"/><circle cx="449.3" cy="270.2" r="1.05"/><circle cx="451.3" cy="271.7" r="1.05"/><circle cx="448.3" cy="272.2" r="1.05"/><circle cx="518.3" cy="273.2" r="1.05"/><circle cx="448.8" cy="274.2" r="1.05"/><circle cx="456.3" cy="274.2" r="1.05"/><circle cx="509.8" cy="274.7" r="1.05"/><circle cx="451.3" cy="275.2" r="1.05"/><circle cx="516.3" cy="275.2" r="1.05"/><circle cx="519.8" cy="275.2" r="1.05"/><circle cx="452.8" cy="279.2" r="1.05"/><circle cx="515.8" cy="280.2" r="1.05"/><circle cx="454.8" cy="281.2" r="1.05"/><circle cx="471.8" cy="281.2" r="1.05"/><circle cx="456.8" cy="282.7" r="1.05"/><circle cx="507.3" cy="283.7" r="1.05"/><circle cx="465.8" cy="284.2" r="1.05"/><circle cx="455.8" cy="284.7" r="1.05"/><circle cx="459.8" cy="285.7" r="1.05"/><circle cx="506.8" cy="285.7" r="1.05"/><circle cx="464.3" cy="286.2" r="1.05"/><circle cx="481.3" cy="286.2" r="1.05"/><circle cx="456.8" cy="286.7" r="1.05"/><circle cx="461.8" cy="287.2" r="1.05"/><circle cx="466.3" cy="288.2" r="1.05"/><circle cx="485.8" cy="288.2" r="1.05"/><circle cx="488.3" cy="288.2" r="1.05"/><circle cx="463.3" cy="288.7" r="1.05"/><circle cx="469.8" cy="289.7" r="1.05"/><circle cx="458.8" cy="291.7" r="1.05"/><circle cx="475.8" cy="292.2" r="1.05"/><circle cx="479.8" cy="292.2" r="1.05"/><circle cx="501.8" cy="292.2" r="1.05"/><circle cx="489.3" cy="292.7" r="1.05"/><circle cx="493.8" cy="292.7" r="1.05"/><circle cx="463.8" cy="293.2" r="1.05"/><circle cx="482.3" cy="293.2" r="1.05"/><circle cx="457.3" cy="293.7" r="1.05"/><circle cx="466.3" cy="293.7" r="1.05"/><circle cx="500.8" cy="293.7" r="1.05"/><circle cx="497.3" cy="294.2" r="1.05"/><circle cx="503.8" cy="297.7" r="1.05"/><circle cx="459.3" cy="298.2" r="1.05"/><circle cx="465.3" cy="301.2" r="1.05"/><circle cx="494.8" cy="301.2" r="1.05"/><circle cx="470.8" cy="301.7" r="1.05"/><circle cx="502.8" cy="301.7" r="1.05"/><circle cx="504.8" cy="302.7" r="1.05"/><circle cx="490.8" cy="303.7" r="1.05"/><circle cx="467.8" cy="304.2" r="1.05"/><circle cx="469.8" cy="305.2" r="1.05"/><circle cx="468.3" cy="306.7" r="1.05"/><circle cx="481.8" cy="307.2" r="1.05"/><circle cx="492.3" cy="307.7" r="1.05"/><circle cx="465.8" cy="308.2" r="1.05"/><circle cx="481.3" cy="309.2" r="1.05"/><circle cx="486.8" cy="309.7" r="1.05"/><circle cx="466.8" cy="310.2" r="1.05"/><circle cx="483.8" cy="310.2" r="1.05"/><circle cx="496.3" cy="310.7" r="1.05"/><circle cx="498.8" cy="311.2" r="1.05"/><circle cx="479.8" cy="312.2" r="1.05"/><circle cx="494.8" cy="312.7" r="1.05"/><circle cx="478.8" cy="314.7" r="1.05"/><circle cx="483.8" cy="314.7" r="1.05"/><circle cx="468.8" cy="315.7" r="1.05"/><circle cx="481.3" cy="315.7" r="1.05"/><circle cx="470.3" cy="317.7" r="1.05"/><circle cx="481.8" cy="318.2" r="1.05"/><circle cx="471.3" cy="319.7" r="1.05"/><circle cx="492.8" cy="320.2" r="1.05"/></g><g fill="#fff" opacity="0.2"><circle cx="511.3" cy="257.2" r="1.06"/><circle cx="504.8" cy="257.7" r="1.06"/><circle cx="483.3" cy="258.7" r="1.06"/><circle cx="480.3" cy="259.2" r="1.06"/><circle cx="492.3" cy="259.2" r="1.06"/><circle cx="472.8" cy="262.2" r="1.06"/><circle cx="456.8" cy="263.2" r="1.06"/><circle cx="461.8" cy="263.2" r="1.06"/><circle cx="470.3" cy="263.2" r="1.06"/><circle cx="472.8" cy="263.7" r="1.06"/><circle cx="459.8" cy="264.2" r="1.06"/><circle cx="455.3" cy="264.7" r="1.06"/><circle cx="455.8" cy="267.2" r="1.06"/><circle cx="452.8" cy="269.7" r="1.06"/><circle cx="459.3" cy="275.7" r="1.06"/><circle cx="454.8" cy="277.7" r="1.06"/><circle cx="517.8" cy="278.2" r="1.06"/><circle cx="472.8" cy="279.2" r="1.06"/><circle cx="513.3" cy="280.2" r="1.06"/><circle cx="474.8" cy="281.2" r="1.06"/><circle cx="465.8" cy="281.7" r="1.06"/><circle cx="504.8" cy="281.7" r="1.06"/><circle cx="511.3" cy="281.7" r="1.06"/><circle cx="472.3" cy="282.7" r="1.06"/><circle cx="469.8" cy="283.2" r="1.06"/><circle cx="475.8" cy="283.2" r="1.06"/><circle cx="496.8" cy="284.2" r="1.06"/><circle cx="492.3" cy="286.7" r="1.06"/><circle cx="471.8" cy="287.2" r="1.06"/><circle cx="468.8" cy="287.7" r="1.06"/><circle cx="473.3" cy="288.7" r="1.06"/><circle cx="492.8" cy="289.2" r="1.06"/><circle cx="500.8" cy="289.7" r="1.06"/><circle cx="497.8" cy="290.2" r="1.06"/><circle cx="477.8" cy="290.7" r="1.06"/><circle cx="484.8" cy="290.7" r="1.06"/><circle cx="498.8" cy="292.2" r="1.06"/><circle cx="473.3" cy="293.2" r="1.06"/><circle cx="492.3" cy="293.7" r="1.06"/><circle cx="471.3" cy="294.7" r="1.06"/><circle cx="490.3" cy="295.2" r="1.06"/><circle cx="502.8" cy="295.2" r="1.06"/><circle cx="472.3" cy="295.7" r="1.06"/><circle cx="492.8" cy="296.7" r="1.06"/><circle cx="498.3" cy="296.7" r="1.06"/><circle cx="500.8" cy="297.2" r="1.06"/><circle cx="496.3" cy="297.7" r="1.06"/><circle cx="501.8" cy="299.2" r="1.06"/><circle cx="467.8" cy="299.7" r="1.06"/><circle cx="489.3" cy="300.2" r="1.06"/><circle cx="492.3" cy="302.7" r="1.06"/><circle cx="500.8" cy="303.2" r="1.06"/><circle cx="488.8" cy="304.7" r="1.06"/><circle cx="487.8" cy="307.7" r="1.06"/><circle cx="490.3" cy="307.7" r="1.06"/><circle cx="469.3" cy="309.7" r="1.06"/><circle cx="473.8" cy="310.2" r="1.06"/><circle cx="464.8" cy="316.2" r="1.06"/></g><g fill="#fff" opacity="0.24"><circle cx="502.3" cy="257.7" r="1.07"/><circle cx="496.8" cy="260.2" r="1.07"/><circle cx="515.3" cy="260.7" r="1.07"/><circle cx="492.8" cy="261.2" r="1.07"/><circle cx="465.3" cy="261.7" r="1.07"/><circle cx="464.3" cy="263.2" r="1.07"/><circle cx="478.8" cy="264.7" r="1.07"/><circle cx="471.3" cy="265.7" r="1.07"/><circle cx="458.3" cy="266.2" r="1.07"/><circle cx="515.3" cy="266.2" r="1.07"/><circle cx="454.8" cy="270.2" r="1.07"/><circle cx="461.8" cy="270.7" r="1.07"/><circle cx="460.3" cy="271.7" r="1.07"/><circle cx="452.8" cy="273.2" r="1.07"/><circle cx="501.3" cy="273.7" r="1.07"/><circle cx="454.3" cy="274.7" r="1.07"/><circle cx="509.8" cy="277.2" r="1.07"/><circle cx="456.8" cy="277.7" r="1.07"/><circle cx="461.3" cy="277.7" r="1.07"/><circle cx="463.3" cy="278.2" r="1.07"/><circle cx="458.8" cy="279.2" r="1.07"/><circle cx="508.8" cy="280.2" r="1.07"/><circle cx="462.8" cy="280.7" r="1.07"/><circle cx="459.3" cy="281.7" r="1.07"/><circle cx="508.8" cy="282.2" r="1.07"/><circle cx="481.8" cy="282.7" r="1.07"/><circle cx="500.3" cy="282.7" r="1.07"/><circle cx="491.8" cy="284.2" r="1.07"/><circle cx="500.3" cy="285.2" r="1.07"/><circle cx="475.3" cy="286.2" r="1.07"/><circle cx="472.8" cy="286.7" r="1.07"/><circle cx="478.8" cy="287.2" r="1.07"/><circle cx="483.8" cy="287.2" r="1.07"/><circle cx="496.8" cy="287.7" r="1.07"/><circle cx="499.3" cy="287.7" r="1.07"/><circle cx="490.3" cy="288.2" r="1.07"/><circle cx="494.8" cy="288.2" r="1.07"/><circle cx="476.3" cy="288.7" r="1.07"/><circle cx="482.3" cy="289.7" r="1.07"/><circle cx="471.8" cy="291.2" r="1.07"/><circle cx="479.3" cy="294.2" r="1.07"/><circle cx="494.8" cy="294.7" r="1.07"/><circle cx="488.3" cy="295.7" r="1.07"/><circle cx="469.8" cy="296.7" r="1.07"/><circle cx="491.8" cy="300.2" r="1.07"/><circle cx="467.8" cy="301.7" r="1.07"/><circle cx="471.8" cy="304.7" r="1.07"/><circle cx="486.3" cy="305.7" r="1.07"/><circle cx="470.8" cy="307.2" r="1.07"/><circle cx="479.3" cy="308.7" r="1.07"/><circle cx="494.8" cy="308.7" r="1.07"/><circle cx="476.8" cy="309.7" r="1.07"/><circle cx="475.3" cy="311.7" r="1.07"/><circle cx="484.3" cy="312.7" r="1.07"/><circle cx="476.3" cy="313.7" r="1.07"/></g><g fill="#fff" opacity="0.28"><circle cx="489.8" cy="259.2" r="1.08"/><circle cx="499.3" cy="260.7" r="1.08"/><circle cx="504.8" cy="260.7" r="1.08"/><circle cx="476.8" cy="261.7" r="1.08"/><circle cx="480.8" cy="263.2" r="1.08"/><circle cx="482.8" cy="263.2" r="1.08"/><circle cx="514.8" cy="263.7" r="1.08"/><circle cx="517.3" cy="264.7" r="1.08"/><circle cx="465.3" cy="266.2" r="1.08"/><circle cx="477.8" cy="266.2" r="1.08"/><circle cx="460.8" cy="267.2" r="1.08"/><circle cx="503.8" cy="267.7" r="1.08"/><circle cx="490.8" cy="268.7" r="1.08"/><circle cx="478.8" cy="270.7" r="1.08"/><circle cx="499.8" cy="271.2" r="1.08"/><circle cx="502.3" cy="275.2" r="1.08"/><circle cx="515.3" cy="276.7" r="1.08"/><circle cx="466.3" cy="279.7" r="1.08"/><circle cx="483.3" cy="284.7" r="1.08"/><circle cx="471.3" cy="285.2" r="1.08"/><circle cx="479.8" cy="289.7" r="1.08"/><circle cx="485.8" cy="292.7" r="1.08"/><circle cx="490.8" cy="298.2" r="1.08"/><circle cx="485.8" cy="298.7" r="1.08"/><circle cx="493.8" cy="298.7" r="1.08"/><circle cx="472.3" cy="300.2" r="1.08"/><circle cx="484.3" cy="303.7" r="1.08"/><circle cx="481.8" cy="304.7" r="1.08"/><circle cx="473.8" cy="306.2" r="1.08"/><circle cx="477.8" cy="306.2" r="1.08"/></g><g fill="#fff" opacity="0.32"><circle cx="507.3" cy="258.7" r="1.1"/><circle cx="482.3" cy="261.7" r="1.1"/><circle cx="500.8" cy="262.7" r="1.1"/><circle cx="492.3" cy="263.7" r="1.1"/><circle cx="463.3" cy="267.7" r="1.1"/><circle cx="477.8" cy="268.2" r="1.1"/><circle cx="502.3" cy="269.7" r="1.1"/><circle cx="502.3" cy="271.2" r="1.1"/><circle cx="468.3" cy="271.7" r="1.1"/><circle cx="463.3" cy="272.2" r="1.1"/><circle cx="458.3" cy="272.7" r="1.1"/><circle cx="511.8" cy="275.7" r="1.1"/><circle cx="464.8" cy="276.2" r="1.1"/><circle cx="467.3" cy="277.7" r="1.1"/><circle cx="513.3" cy="277.7" r="1.1"/><circle cx="511.3" cy="279.2" r="1.1"/><circle cx="490.3" cy="284.7" r="1.1"/><circle cx="474.3" cy="297.2" r="1.1"/><circle cx="470.8" cy="298.7" r="1.1"/><circle cx="484.3" cy="301.7" r="1.1"/><circle cx="474.3" cy="303.7" r="1.1"/><circle cx="475.3" cy="307.7" r="1.1"/><circle cx="471.8" cy="309.2" r="1.1"/></g><g fill="#fff" opacity="0.36"><circle cx="501.8" cy="260.2" r="1.11"/><circle cx="474.8" cy="263.2" r="1.11"/><circle cx="489.3" cy="263.7" r="1.11"/><circle cx="497.8" cy="264.7" r="1.11"/><circle cx="481.8" cy="265.2" r="1.11"/><circle cx="475.8" cy="265.7" r="1.11"/><circle cx="493.8" cy="268.7" r="1.11"/><circle cx="457.3" cy="270.2" r="1.11"/><circle cx="465.8" cy="270.2" r="1.11"/><circle cx="495.8" cy="271.2" r="1.11"/><circle cx="513.3" cy="272.2" r="1.11"/><circle cx="515.8" cy="272.7" r="1.11"/><circle cx="498.8" cy="273.7" r="1.11"/><circle cx="472.3" cy="274.7" r="1.11"/><circle cx="472.3" cy="276.7" r="1.11"/><circle cx="506.8" cy="279.7" r="1.11"/><circle cx="486.3" cy="281.7" r="1.11"/><circle cx="490.8" cy="281.7" r="1.11"/><circle cx="479.3" cy="283.2" r="1.11"/><circle cx="485.8" cy="283.7" r="1.11"/><circle cx="477.3" cy="284.7" r="1.11"/><circle cx="477.3" cy="295.7" r="1.11"/><circle cx="473.8" cy="301.2" r="1.11"/><circle cx="479.8" cy="303.2" r="1.11"/><circle cx="476.8" cy="303.7" r="1.11"/></g><g fill="#fff" opacity="0.4"><circle cx="484.3" cy="260.7" r="1.12"/><circle cx="501.8" cy="265.2" r="1.12"/><circle cx="490.8" cy="265.7" r="1.12"/><circle cx="485.3" cy="266.2" r="1.12"/><circle cx="487.3" cy="266.2" r="1.12"/><circle cx="500.8" cy="267.7" r="1.12"/><circle cx="513.3" cy="268.7" r="1.12"/><circle cx="476.8" cy="271.7" r="1.12"/><circle cx="483.3" cy="272.7" r="1.12"/><circle cx="488.3" cy="272.7" r="1.12"/><circle cx="464.3" cy="274.2" r="1.12"/><circle cx="513.8" cy="274.2" r="1.12"/><circle cx="476.3" cy="274.7" r="1.12"/><circle cx="470.3" cy="275.7" r="1.12"/><circle cx="482.3" cy="275.7" r="1.12"/><circle cx="475.8" cy="277.2" r="1.12"/><circle cx="507.3" cy="278.7" r="1.12"/><circle cx="477.3" cy="281.2" r="1.12"/><circle cx="494.3" cy="282.2" r="1.12"/><circle cx="488.3" cy="283.2" r="1.12"/><circle cx="485.3" cy="294.7" r="1.12"/><circle cx="478.3" cy="297.7" r="1.12"/><circle cx="483.8" cy="300.2" r="1.12"/><circle cx="481.3" cy="301.2" r="1.12"/></g><g fill="#fff" opacity="0.44"><circle cx="510.8" cy="260.7" r="1.13"/><circle cx="488.8" cy="261.2" r="1.13"/><circle cx="486.3" cy="262.2" r="1.13"/><circle cx="496.3" cy="263.2" r="1.13"/><circle cx="498.8" cy="263.2" r="1.13"/><circle cx="486.3" cy="264.2" r="1.13"/><circle cx="494.8" cy="264.7" r="1.13"/><circle cx="492.8" cy="265.7" r="1.13"/><circle cx="494.8" cy="266.7" r="1.13"/><circle cx="473.8" cy="267.2" r="1.13"/><circle cx="480.3" cy="267.2" r="1.13"/><circle cx="458.8" cy="268.2" r="1.13"/><circle cx="471.8" cy="268.2" r="1.13"/><circle cx="485.8" cy="268.2" r="1.13"/><circle cx="495.8" cy="268.2" r="1.13"/><circle cx="467.3" cy="268.7" r="1.13"/><circle cx="469.3" cy="268.7" r="1.13"/><circle cx="498.8" cy="268.7" r="1.13"/><circle cx="474.8" cy="269.2" r="1.13"/><circle cx="480.8" cy="269.7" r="1.13"/><circle cx="504.8" cy="269.7" r="1.13"/><circle cx="515.3" cy="270.2" r="1.13"/><circle cx="472.8" cy="271.2" r="1.13"/><circle cx="470.8" cy="271.7" r="1.13"/><circle cx="489.8" cy="271.7" r="1.13"/><circle cx="492.3" cy="272.2" r="1.13"/><circle cx="494.3" cy="272.2" r="1.13"/><circle cx="505.3" cy="272.7" r="1.13"/><circle cx="469.3" cy="273.2" r="1.13"/><circle cx="466.8" cy="273.7" r="1.13"/><circle cx="505.3" cy="277.2" r="1.13"/><circle cx="480.3" cy="281.2" r="1.13"/><circle cx="479.3" cy="295.7" r="1.13"/></g><g fill="#fff" opacity="0.48"><circle cx="507.3" cy="269.2" r="1.14"/><circle cx="483.8" cy="270.2" r="1.14"/><circle cx="487.8" cy="270.2" r="1.14"/><circle cx="480.8" cy="272.2" r="1.14"/><circle cx="510.8" cy="272.2" r="1.14"/><circle cx="504.8" cy="274.7" r="1.14"/><circle cx="479.3" cy="277.7" r="1.14"/><circle cx="498.3" cy="281.7" r="1.14"/><circle cx="482.3" cy="295.7" r="1.14"/><circle cx="488.3" cy="298.2" r="1.14"/><circle cx="475.8" cy="298.7" r="1.14"/></g><g fill="#fff" opacity="0.52"><circle cx="504.3" cy="265.2" r="1.16"/><circle cx="506.8" cy="271.2" r="1.16"/><circle cx="474.3" cy="273.2" r="1.16"/><circle cx="478.8" cy="273.7" r="1.16"/><circle cx="499.8" cy="275.7" r="1.16"/><circle cx="489.8" cy="278.7" r="1.16"/><circle cx="484.8" cy="280.2" r="1.16"/><circle cx="488.8" cy="280.7" r="1.16"/><circle cx="482.8" cy="297.7" r="1.16"/><circle cx="480.3" cy="298.7" r="1.16"/><circle cx="476.8" cy="300.7" r="1.16"/></g><g fill="#fff" opacity="0.56"><circle cx="485.8" cy="271.7" r="1.17"/><circle cx="479.3" cy="275.7" r="1.17"/><circle cx="481.8" cy="277.7" r="1.17"/><circle cx="485.8" cy="278.2" r="1.17"/><circle cx="502.8" cy="278.2" r="1.17"/><circle cx="481.8" cy="279.7" r="1.17"/><circle cx="486.3" cy="296.7" r="1.17"/><circle cx="479.3" cy="300.2" r="1.17"/></g><g fill="#fff" opacity="0.6"><circle cx="508.8" cy="260.7" r="1.18"/><circle cx="506.8" cy="262.2" r="1.18"/><circle cx="509.3" cy="270.2" r="1.18"/><circle cx="476.8" cy="279.2" r="1.18"/></g><g fill="#fff" opacity="0.64"><circle cx="513.3" cy="261.7" r="1.19"/><circle cx="506.3" cy="264.2" r="1.19"/><circle cx="498.8" cy="277.7" r="1.19"/><circle cx="500.8" cy="277.7" r="1.19"/><circle cx="496.8" cy="280.2" r="1.19"/></g><g fill="#fff" opacity="0.68"><circle cx="508.3" cy="262.7" r="1.2"/><circle cx="489.3" cy="276.2" r="1.2"/></g><g fill="#fff" opacity="0.72"><circle cx="509.8" cy="268.2" r="1.22"/><circle cx="485.8" cy="273.7" r="1.22"/><circle cx="490.3" cy="273.7" r="1.22"/><circle cx="495.8" cy="274.2" r="1.22"/><circle cx="496.8" cy="276.2" r="1.22"/></g><g fill="#fff" opacity="0.76"><circle cx="511.3" cy="262.7" r="1.23"/><circle cx="508.8" cy="265.7" r="1.23"/><circle cx="511.8" cy="267.2" r="1.23"/><circle cx="492.8" cy="274.2" r="1.23"/><circle cx="492.8" cy="278.7" r="1.23"/><circle cx="494.8" cy="279.7" r="1.23"/></g><g fill="#fff" opacity="0.8"><circle cx="511.3" cy="265.2" r="1.24"/><circle cx="493.8" cy="276.2" r="1.24"/></g><g fill="#fff" opacity="0.88"><circle cx="486.3" cy="276.2" r="1.26"/></g></g></g>
<text x="483.25" y="16" font-family='"DejaVu Sans", "Liberation Sans", sans-serif' font-size="10.9" text-anchor="middle" fill="#000" stroke="#000" stroke-width="0.22">|E| Field</text>
<text x="483.25" y="28.2" font-family='"DejaVu Sans", "Liberation Sans", sans-serif' font-size="10.9" text-anchor="middle" fill="#000" stroke="#000" stroke-width="0.22">(On Resonance)</text>
<text x="446.65" y="164.6" font-family='"DejaVu Sans", "Liberation Sans", sans-serif' font-size="8.92" text-anchor="middle" fill="#000" stroke="#000" stroke-width="0.18">−5</text>
<text x="417.9" y="132.4" font-family='"DejaVu Sans", "Liberation Sans", sans-serif' font-size="8.92" text-anchor="end" fill="#000" stroke="#000" stroke-width="0.18">−5</text>
<text x="483.25" y="164.6" font-family='"DejaVu Sans", "Liberation Sans", sans-serif' font-size="8.92" text-anchor="middle" fill="#000" stroke="#000" stroke-width="0.18">0</text>
<text x="417.9" y="95.8" font-family='"DejaVu Sans", "Liberation Sans", sans-serif' font-size="8.92" text-anchor="end" fill="#000" stroke="#000" stroke-width="0.18">0</text>
<text x="519.85" y="164.6" font-family='"DejaVu Sans", "Liberation Sans", sans-serif' font-size="8.92" text-anchor="middle" fill="#000" stroke="#000" stroke-width="0.18">5</text>
<text x="417.9" y="59.2" font-family='"DejaVu Sans", "Liberation Sans", sans-serif' font-size="8.92" text-anchor="end" fill="#000" stroke="#000" stroke-width="0.18">5</text>
<path d="M446.65 152.6v3.1M422.3 128.5h-3.1M483.25 152.6v3.1M422.3 91.9h-3.1M519.85 152.6v3.1M422.3 55.3h-3.1" stroke="#222" stroke-width="0.7" fill="none"/>
<text x="483.25" y="175" font-family='"DejaVu Sans", "Liberation Sans", sans-serif' font-size="8.92" text-anchor="middle" fill="#000" stroke="#000" stroke-width="0.18">Distance (<tspan font-style="italic">μ</tspan>m)</text>
<text transform="translate(399.7 92.4) rotate(-90)" font-family='"DejaVu Sans", "Liberation Sans", sans-serif' font-size="8.92" text-anchor="middle" fill="#000" stroke="#000" stroke-width="0.18">Distance (<tspan font-style="italic">μ</tspan>m)</text>
<text x="483.4" y="191.3" font-family='"Liberation Sans", Arial, sans-serif' font-size="12.7" text-anchor="middle" fill="#000" stroke="#000" stroke-width="0.36">(c)</text>
<text x="483.25" y="217.5" font-family='"DejaVu Sans", "Liberation Sans", sans-serif' font-size="10.9" text-anchor="middle" fill="#000" stroke="#000" stroke-width="0.22">|E| Field</text>
<text x="483.25" y="229.7" font-family='"DejaVu Sans", "Liberation Sans", sans-serif' font-size="10.9" text-anchor="middle" fill="#000" stroke="#000" stroke-width="0.22">(Off Resonance)</text>
<text x="446.65" y="366.1" font-family='"DejaVu Sans", "Liberation Sans", sans-serif' font-size="8.92" text-anchor="middle" fill="#000" stroke="#000" stroke-width="0.18">−5</text>
<text x="417.9" y="333.9" font-family='"DejaVu Sans", "Liberation Sans", sans-serif' font-size="8.92" text-anchor="end" fill="#000" stroke="#000" stroke-width="0.18">−5</text>
<text x="483.25" y="366.1" font-family='"DejaVu Sans", "Liberation Sans", sans-serif' font-size="8.92" text-anchor="middle" fill="#000" stroke="#000" stroke-width="0.18">0</text>
<text x="417.9" y="297.3" font-family='"DejaVu Sans", "Liberation Sans", sans-serif' font-size="8.92" text-anchor="end" fill="#000" stroke="#000" stroke-width="0.18">0</text>
<text x="519.85" y="366.1" font-family='"DejaVu Sans", "Liberation Sans", sans-serif' font-size="8.92" text-anchor="middle" fill="#000" stroke="#000" stroke-width="0.18">5</text>
<text x="417.9" y="260.7" font-family='"DejaVu Sans", "Liberation Sans", sans-serif' font-size="8.92" text-anchor="end" fill="#000" stroke="#000" stroke-width="0.18">5</text>
<path d="M446.65 354.1v3.1M422.3 330h-3.1M483.25 354.1v3.1M422.3 293.4h-3.1M519.85 354.1v3.1M422.3 256.8h-3.1" stroke="#222" stroke-width="0.7" fill="none"/>
<text x="483.25" y="376.5" font-family='"DejaVu Sans", "Liberation Sans", sans-serif' font-size="8.92" text-anchor="middle" fill="#000" stroke="#000" stroke-width="0.18">Distance (<tspan font-style="italic">μ</tspan>m)</text>
<text transform="translate(399.7 293.9) rotate(-90)" font-family='"DejaVu Sans", "Liberation Sans", sans-serif' font-size="8.92" text-anchor="middle" fill="#000" stroke="#000" stroke-width="0.18">Distance (<tspan font-style="italic">μ</tspan>m)</text>
<text x="483.4" y="392.8" font-family='"Liberation Sans", Arial, sans-serif' font-size="12.7" text-anchor="middle" fill="#000" stroke="#000" stroke-width="0.36">(f)</text>
<rect x="26.9" y="250" width="154.9" height="100" fill="#fff" stroke="#444" stroke-width="0.7"/>
<g clip-path="url(#clip_d)"><defs><clipPath id="clip_d"><rect x="26.9" y="250" width="154.9" height="100"/></clipPath></defs>
<polyline points="34.7,257.33 35.05,257.29 35.4,257.26 35.75,257.23 36.1,257.2 36.44,257.17 36.79,257.14 37.14,257.11 37.49,257.08 37.84,257.05 38.19,257.02 38.54,256.99 38.89,256.96 39.24,256.94 39.58,256.91 39.93,256.88 40.28,256.86 40.63,256.83 40.98,256.81 41.33,256.78 41.68,256.76 42.03,256.73 42.38,256.71 42.72,256.69 43.07,256.67 43.42,256.64 43.77,256.62 44.12,256.6 44.47,256.58 44.82,256.56 45.17,256.54 45.52,256.52 45.86,256.5 46.21,256.48 46.56,256.46 46.91,256.44 47.26,256.42 47.61,256.41 47.96,256.39 48.31,256.37 48.65,256.36 49,256.34 49.35,256.32 49.7,256.31 50.05,256.29 50.4,256.28 50.75,256.26 51.1,256.25 51.45,256.23 51.79,256.22 52.14,256.2 52.49,256.19 52.84,256.18 53.19,256.16 53.54,256.15 53.89,256.14 54.24,256.12 54.59,256.11 54.93,256.1 55.28,256.09 55.63,256.08 55.98,256.07 56.33,256.05 56.68,256.04 57.03,256.03 57.38,256.02 57.73,256.01 58.07,256 58.42,255.99 58.77,255.98 59.12,255.97 59.47,255.96 59.82,255.95 60.17,255.95 60.52,255.94 60.87,255.93 61.21,255.92 61.56,255.91 61.91,255.91 62.26,255.9 62.61,255.89 62.96,255.88 63.31,255.88 63.66,255.87 64.01,255.86 64.35,255.86 64.7,255.85 65.05,255.84 65.4,255.84 65.75,255.83 66.1,255.82 66.45,255.82 66.8,255.81 67.15,255.81 67.49,255.8 67.84,255.8 68.19,255.79 68.54,255.79 68.89,255.78 69.24,255.78 69.59,255.78 69.94,255.77 70.28,255.77 70.63,255.76 70.98,255.76 71.33,255.76 71.68,255.75 72.03,255.75 72.38,255.75 72.73,255.75 73.08,255.74 73.42,255.74 73.77,255.74 74.12,255.74 74.47,255.73 74.82,255.73 75.17,255.73 75.52,255.73 75.87,255.73 76.22,255.73 76.56,255.73 76.91,255.73 77.26,255.73 77.61,255.72 77.96,255.72 78.31,255.72 78.66,255.72 79.01,255.72 79.36,255.72 79.7,255.73 80.05,255.73 80.4,255.73 80.75,255.73 81.1,255.73 81.45,255.73 81.8,255.74 82.15,255.74 82.5,255.74 82.84,255.75 83.19,255.75 83.54,255.75 83.89,255.76 84.24,255.76 84.59,255.77 84.94,255.77 85.29,255.78 85.64,255.78 85.98,255.79 86.33,255.79 86.68,255.8 87.03,255.81 87.38,255.81 87.73,255.82 88.08,255.83 88.43,255.84 88.78,255.84 89.12,255.85 89.47,255.86 89.82,255.87 90.17,255.88 90.52,255.89 90.87,255.9 91.22,255.91 91.57,255.92 91.92,255.93 92.26,255.94 92.61,255.96 92.96,255.97 93.31,255.98 93.66,255.99 94.01,256.01 94.36,256.02 94.71,256.04 95.05,256.05 95.4,256.07 95.75,256.09 96.1,256.1 96.45,256.12 96.8,256.14 97.15,256.16 97.5,256.18 97.85,256.2 98.19,256.22 98.54,256.25 98.89,256.27 99.24,256.29 99.59,256.32 99.94,256.35 100.29,256.37 100.64,256.4 100.99,256.43 101.33,256.46 101.68,256.5 102.03,256.53 102.38,256.56 102.73,256.6 103.08,256.64 103.43,256.68 103.78,256.72 104.13,256.76 104.47,256.81 104.82,256.86 105.17,256.91 105.52,256.96 105.87,257.01 106.22,257.07 106.57,257.13 106.92,257.19 107.27,257.25 107.61,257.32 107.96,257.39 108.31,257.47 108.66,257.55 109.01,257.63 109.36,257.72 109.71,257.81 110.06,257.9 110.41,258 110.75,258.11 111.1,258.22 111.45,258.34 111.8,258.46 112.15,258.6 112.5,258.73 112.85,258.88 113.2,259.04 113.55,259.2 113.89,259.37 114.24,259.56 114.59,259.75 114.94,259.96 115.29,260.18 115.64,260.42 115.99,260.66 116.34,260.93 116.68,261.21 117.03,261.51 117.38,261.83 117.73,262.18 118.08,262.54 118.43,262.93 118.78,263.35 119.13,263.8 119.48,264.28 119.82,264.79 120.17,265.35 120.52,265.94 120.87,266.58 121.22,267.26 121.57,268 121.92,268.79 122.27,269.65 122.62,270.56 122.96,271.55 123.31,272.62 123.66,273.77 124.01,275.01 124.36,276.34 124.71,277.78 125.06,279.32 125.41,280.99 125.76,282.77 126.1,284.68 126.45,286.73 126.8,288.91 127.15,291.24 127.5,293.72 127.85,296.33 128.2,299.09 128.55,301.98 128.9,305 129.24,308.12 129.59,311.33 129.94,314.62 130.29,317.94 130.64,321.26 130.99,324.56 131.34,327.78 131.69,330.89 132.04,333.84 132.38,336.58 132.73,339.07 133.08,341.25 133.43,343.04 133.78,344.34 134.13,344.55 134.48,343.41 134.83,341.71 135.18,339.62 135.52,337.2 135.87,334.52 136.22,331.61 136.57,328.54 136.92,325.34 137.27,322.06 137.62,318.74 137.97,315.42 138.32,312.13 138.66,308.9 139.01,305.75 139.36,302.71 139.71,299.79 140.06,297 140.41,294.35 140.76,291.85 141.11,289.49 141.45,287.27 141.8,285.19 142.15,283.25 142.5,281.44 142.85,279.75 143.2,278.18 143.55,276.72 143.9,275.37 144.25,274.11 144.59,272.94 144.94,271.86 145.29,270.85 145.64,269.92 145.99,269.05 146.34,268.25 146.69,267.5 147.04,266.81 147.39,266.16 147.73,265.56 148.08,265 148.43,264.48 148.78,263.99 149.13,263.54 149.48,263.12 149.83,262.72 150.18,262.35 150.53,262.01 150.87,261.68 151.22,261.38 151.57,261.1 151.92,260.83 152.27,260.58 152.62,260.34 152.97,260.12 153.32,259.91 153.67,259.72 154.01,259.53 154.36,259.36 154.71,259.19 155.06,259.04 155.41,258.89 155.76,258.75 156.11,258.62 156.46,258.5 156.81,258.38 157.15,258.27 157.5,258.16 157.85,258.06 158.2,257.97 158.55,257.88 158.9,257.79 159.25,257.71 159.6,257.63 159.95,257.56 160.29,257.49 160.64,257.42 160.99,257.36 161.34,257.3 161.69,257.24 162.04,257.18 162.39,257.13 162.74,257.08 163.08,257.03 163.43,256.99 163.78,256.94 164.13,256.9 164.48,256.86 164.83,256.82 165.18,256.78 165.53,256.75 165.88,256.71 166.22,256.68 166.57,256.65 166.92,256.62 167.27,256.59 167.62,256.56 167.97,256.54 168.32,256.51 168.67,256.49 169.02,256.46 169.36,256.44 169.71,256.42 170.06,256.4 170.41,256.38 170.76,256.36 171.11,256.34 171.46,256.32 171.81,256.3 172.16,256.29 172.5,256.27 172.85,256.26 173.2,256.24 173.55,256.23 173.9,256.21" fill="none" stroke="#1f77b4" stroke-width="1.15" stroke-linejoin="round"/>
<polyline points="34.7,346.03 35.05,346.03 35.4,346.03 35.75,346.03 36.1,346.03 36.44,346.03 36.79,346.03 37.14,346.03 37.49,346.03 37.84,346.03 38.19,346.03 38.54,346.03 38.89,346.03 39.24,346.03 39.58,346.03 39.93,346.02 40.28,346.02 40.63,346.02 40.98,346.02 41.33,346.02 41.68,346.02 42.03,346.02 42.38,346.02 42.72,346.02 43.07,346.02 43.42,346.02 43.77,346.02 44.12,346.02 44.47,346.02 44.82,346.02 45.17,346.01 45.52,346.01 45.86,346.01 46.21,346.01 46.56,346.01 46.91,346.01 47.26,346.01 47.61,346.01 47.96,346.01 48.31,346.01 48.65,346.01 49,346.01 49.35,346 49.7,346 50.05,346 50.4,346 50.75,346 51.1,346 51.45,346 51.79,346 52.14,346 52.49,346 52.84,345.99 53.19,345.99 53.54,345.99 53.89,345.99 54.24,345.99 54.59,345.99 54.93,345.99 55.28,345.99 55.63,345.99 55.98,345.98 56.33,345.98 56.68,345.98 57.03,345.98 57.38,345.98 57.73,345.98 58.07,345.98 58.42,345.98 58.77,345.97 59.12,345.97 59.47,345.97 59.82,345.97 60.17,345.97 60.52,345.97 60.87,345.97 61.21,345.96 61.56,345.96 61.91,345.96 62.26,345.96 62.61,345.96 62.96,345.96 63.31,345.95 63.66,345.95 64.01,345.95 64.35,345.95 64.7,345.95 65.05,345.95 65.4,345.94 65.75,345.94 66.1,345.94 66.45,345.94 66.8,345.94 67.15,345.93 67.49,345.93 67.84,345.93 68.19,345.93 68.54,345.93 68.89,345.92 69.24,345.92 69.59,345.92 69.94,345.92 70.28,345.92 70.63,345.91 70.98,345.91 71.33,345.91 71.68,345.91 72.03,345.9 72.38,345.9 72.73,345.9 73.08,345.9 73.42,345.89 73.77,345.89 74.12,345.89 74.47,345.88 74.82,345.88 75.17,345.88 75.52,345.88 75.87,345.87 76.22,345.87 76.56,345.87 76.91,345.86 77.26,345.86 77.61,345.86 77.96,345.85 78.31,345.85 78.66,345.84 79.01,345.84 79.36,345.84 79.7,345.83 80.05,345.83 80.4,345.83 80.75,345.82 81.1,345.82 81.45,345.81 81.8,345.81 82.15,345.8 82.5,345.8 82.84,345.79 83.19,345.79 83.54,345.78 83.89,345.78 84.24,345.77 84.59,345.77 84.94,345.76 85.29,345.76 85.64,345.75 85.98,345.75 86.33,345.74 86.68,345.73 87.03,345.73 87.38,345.72 87.73,345.71 88.08,345.71 88.43,345.7 88.78,345.69 89.12,345.69 89.47,345.68 89.82,345.67 90.17,345.66 90.52,345.66 90.87,345.65 91.22,345.64 91.57,345.63 91.92,345.62 92.26,345.61 92.61,345.6 92.96,345.59 93.31,345.58 93.66,345.57 94.01,345.56 94.36,345.55 94.71,345.54 95.05,345.53 95.4,345.52 95.75,345.5 96.1,345.49 96.45,345.48 96.8,345.46 97.15,345.45 97.5,345.44 97.85,345.42 98.19,345.41 98.54,345.39 98.89,345.37 99.24,345.36 99.59,345.34 99.94,345.32 100.29,345.3 100.64,345.28 100.99,345.26 101.33,345.24 101.68,345.22 102.03,345.2 102.38,345.18 102.73,345.15 103.08,345.13 103.43,345.1 103.78,345.08 104.13,345.05 104.47,345.02 104.82,344.99 105.17,344.96 105.52,344.93 105.87,344.89 106.22,344.86 106.57,344.82 106.92,344.78 107.27,344.75 107.61,344.7 107.96,344.66 108.31,344.62 108.66,344.57 109.01,344.52 109.36,344.47 109.71,344.41 110.06,344.36 110.41,344.3 110.75,344.24 111.1,344.17 111.45,344.1 111.8,344.03 112.15,343.96 112.5,343.88 112.85,343.79 113.2,343.71 113.55,343.61 113.89,343.51 114.24,343.41 114.59,343.3 114.94,343.18 115.29,343.06 115.64,342.93 115.99,342.79 116.34,342.64 116.68,342.49 117.03,342.32 117.38,342.14 117.73,341.95 118.08,341.74 118.43,341.53 118.78,341.29 119.13,341.04 119.48,340.77 119.82,340.48 120.17,340.17 120.52,339.83 120.87,339.47 121.22,339.08 121.57,338.65 121.92,338.18 122.27,337.68 122.62,337.13 122.96,336.53 123.31,335.88 123.66,335.16 124.01,334.37 124.36,333.51 124.71,332.56 125.06,331.51 125.41,330.35 125.76,329.07 126.1,327.66 126.45,326.09 126.8,324.35 127.15,322.43 127.5,320.29 127.85,317.93 128.2,315.32 128.55,312.45 128.9,309.3 129.24,305.88 129.59,302.18 129.94,298.22 130.29,294.07 130.64,289.78 130.99,285.45 131.34,281.22 131.69,277.24 132.04,273.67 132.38,270.66 132.73,268.33 133.08,266.76 133.43,265.94 133.78,265.74 134.13,265.99 134.48,266.87 134.83,268.51 135.18,270.9 135.52,273.97 135.87,277.58 136.22,281.6 136.57,285.84 136.92,290.17 137.27,294.45 137.62,298.59 137.97,302.52 138.32,306.2 138.66,309.6 139.01,312.72 139.36,315.57 139.71,318.15 140.06,320.49 140.41,322.61 140.76,324.52 141.11,326.24 141.45,327.79 141.8,329.19 142.15,330.46 142.5,331.61 142.85,332.65 143.2,333.59 143.55,334.45 143.9,335.23 144.25,335.94 144.59,336.59 144.94,337.18 145.29,337.73 145.64,338.23 145.99,338.69 146.34,339.11 146.69,339.5 147.04,339.86 147.39,340.2 147.73,340.51 148.08,340.8 148.43,341.07 148.78,341.31 149.13,341.55 149.48,341.76 149.83,341.97 150.18,342.16 150.53,342.33 150.87,342.5 151.22,342.66 151.57,342.8 151.92,342.94 152.27,343.07 152.62,343.19 152.97,343.31 153.32,343.42 153.67,343.52 154.01,343.62 154.36,343.71 154.71,343.8 155.06,343.88 155.41,343.96 155.76,344.04 156.11,344.11 156.46,344.18 156.81,344.24 157.15,344.3 157.5,344.36 157.85,344.42 158.2,344.47 158.55,344.52 158.9,344.57 159.25,344.62 159.6,344.66 159.95,344.71 160.29,344.75 160.64,344.79 160.99,344.83 161.34,344.86 161.69,344.9 162.04,344.93 162.39,344.96 162.74,344.99 163.08,345.02 163.43,345.05 163.78,345.08 164.13,345.11 164.48,345.13 164.83,345.16 165.18,345.18 165.53,345.2 165.88,345.22 166.22,345.25 166.57,345.27 166.92,345.29 167.27,345.3 167.62,345.32 167.97,345.34 168.32,345.36 168.67,345.38 169.02,345.39 169.36,345.41 169.71,345.42 170.06,345.44 170.41,345.45 170.76,345.47 171.11,345.48 171.46,345.49 171.81,345.5 172.16,345.52 172.5,345.53 172.85,345.54 173.2,345.55 173.55,345.56 173.9,345.57" fill="none" stroke="#ff7f0e" stroke-width="1.15" stroke-linejoin="round"/>
<polyline points="34.7,255.4 35.05,255.39 35.4,255.39 35.75,255.39 36.1,255.39 36.44,255.38 36.79,255.38 37.14,255.38 37.49,255.38 37.84,255.37 38.19,255.37 38.54,255.37 38.89,255.37 39.24,255.36 39.58,255.36 39.93,255.36 40.28,255.36 40.63,255.35 40.98,255.35 41.33,255.35 41.68,255.35 42.03,255.34 42.38,255.34 42.72,255.34 43.07,255.34 43.42,255.34 43.77,255.34 44.12,255.33 44.47,255.33 44.82,255.33 45.17,255.33 45.52,255.33 45.86,255.33 46.21,255.33 46.56,255.32 46.91,255.32 47.26,255.32 47.61,255.32 47.96,255.32 48.31,255.32 48.65,255.32 49,255.32 49.35,255.32 49.7,255.32 50.05,255.32 50.4,255.32 50.75,255.32 51.1,255.32 51.45,255.32 51.79,255.32 52.14,255.32 52.49,255.32 52.84,255.32 53.19,255.32 53.54,255.32 53.89,255.33 54.24,255.33 54.59,255.33 54.93,255.33 55.28,255.33 55.63,255.33 55.98,255.34 56.33,255.34 56.68,255.34 57.03,255.34 57.38,255.35 57.73,255.35 58.07,255.35 58.42,255.36 58.77,255.36 59.12,255.36 59.47,255.37 59.82,255.37 60.17,255.37 60.52,255.38 60.87,255.38 61.21,255.39 61.56,255.39 61.91,255.4 62.26,255.4 62.61,255.41 62.96,255.42 63.31,255.42 63.66,255.43 64.01,255.44 64.35,255.44 64.7,255.45 65.05,255.46 65.4,255.47 65.75,255.47 66.1,255.48 66.45,255.49 66.8,255.5 67.15,255.51 67.49,255.52 67.84,255.53 68.19,255.54 68.54,255.55 68.89,255.56 69.24,255.57 69.59,255.59 69.94,255.6 70.28,255.61 70.63,255.62 70.98,255.64 71.33,255.65 71.68,255.67 72.03,255.68 72.38,255.7 72.73,255.71 73.08,255.73 73.42,255.75 73.77,255.77 74.12,255.78 74.47,255.8 74.82,255.82 75.17,255.84 75.52,255.86 75.87,255.89 76.22,255.91 76.56,255.93 76.91,255.96 77.26,255.98 77.61,256.01 77.96,256.04 78.31,256.07 78.66,256.09 79.01,256.13 79.36,256.16 79.7,256.19 80.05,256.22 80.4,256.26 80.75,256.3 81.1,256.34 81.45,256.38 81.8,256.42 82.15,256.46 82.5,256.51 82.84,256.56 83.19,256.61 83.54,256.66 83.89,256.71 84.24,256.77 84.59,256.83 84.94,256.89 85.29,256.96 85.64,257.03 85.98,257.1 86.33,257.18 86.68,257.26 87.03,257.34 87.38,257.43 87.73,257.53 88.08,257.63 88.43,257.73 88.78,257.84 89.12,257.96 89.47,258.08 89.82,258.22 90.17,258.35 90.52,258.5 90.87,258.66 91.22,258.83 91.57,259.01 91.92,259.19 92.26,259.4 92.61,259.61 92.96,259.84 93.31,260.09 93.66,260.36 94.01,260.64 94.36,260.94 94.71,261.27 95.05,261.62 95.4,262 95.75,262.41 96.1,262.85 96.45,263.33 96.8,263.84 97.15,264.4 97.5,265.01 97.85,265.66 98.19,266.38 98.54,267.15 98.89,267.99 99.24,268.91 99.59,269.91 99.94,271 100.29,272.19 100.64,273.48 100.99,274.9 101.33,276.44 101.68,278.12 102.03,279.95 102.38,281.94 102.73,284.1 103.08,286.44 103.43,288.97 103.78,291.7 104.13,294.63 104.47,297.75 104.82,301.06 105.17,304.55 105.52,308.2 105.87,311.98 106.22,315.85 106.57,319.77 106.92,323.68 107.27,327.51 107.61,331.21 107.96,334.7 108.31,337.91 108.66,340.74 109.01,343.12 109.36,344.91 109.71,345.55 110.06,344.26 110.41,342.21 110.75,339.63 111.1,336.64 111.45,333.31 111.8,329.73 112.15,325.97 112.5,322.1 112.85,318.19 113.2,314.3 113.55,310.47 113.89,306.74 114.24,303.17 114.59,299.76 114.94,296.53 115.29,293.5 115.64,290.67 115.99,288.03 116.34,285.59 116.68,283.33 117.03,281.25 117.38,279.34 117.73,277.59 118.08,275.98 118.43,274.5 118.78,273.15 119.13,271.91 119.48,270.77 119.82,269.73 120.17,268.78 120.52,267.91 120.87,267.1 121.22,266.36 121.57,265.69 121.92,265.06 122.27,264.49 122.62,263.96 122.96,263.47 123.31,263.02 123.66,262.6 124.01,262.21 124.36,261.85 124.71,261.52 125.06,261.21 125.41,260.92 125.76,260.66 126.1,260.41 126.45,260.18 126.8,259.96 127.15,259.76 127.5,259.57 127.85,259.39 128.2,259.23 128.55,259.07 128.9,258.93 129.24,258.79 129.59,258.66 129.94,258.54 130.29,258.42 130.64,258.32 130.99,258.22 131.34,258.12 131.69,258.03 132.04,257.94 132.38,257.86 132.73,257.79 133.08,257.71 133.43,257.64 133.78,257.58 134.13,257.51 134.48,257.45 134.83,257.4 135.18,257.34 135.52,257.29 135.87,257.24 136.22,257.2 136.57,257.15 136.92,257.11 137.27,257.07 137.62,257.03 137.97,256.99 138.32,256.96 138.66,256.92 139.01,256.89 139.36,256.86 139.71,256.82 140.06,256.8 140.41,256.77 140.76,256.74 141.11,256.71 141.45,256.69 141.8,256.66 142.15,256.64 142.5,256.62 142.85,256.59 143.2,256.57 143.55,256.55 143.9,256.53 144.25,256.51 144.59,256.49 144.94,256.47 145.29,256.46 145.64,256.44 145.99,256.42 146.34,256.4 146.69,256.39 147.04,256.37 147.39,256.36 147.73,256.34 148.08,256.33 148.43,256.31 148.78,256.3 149.13,256.29 149.48,256.27 149.83,256.26 150.18,256.25 150.53,256.24 150.87,256.22 151.22,256.21 151.57,256.2 151.92,256.19 152.27,256.18 152.62,256.17 152.97,256.16 153.32,256.15 153.67,256.14 154.01,256.13 154.36,256.12 154.71,256.11 155.06,256.1 155.41,256.09 155.76,256.08 156.11,256.07 156.46,256.06 156.81,256.05 157.15,256.04 157.5,256.03 157.85,256.03 158.2,256.02 158.55,256.01 158.9,256 159.25,255.99 159.6,255.99 159.95,255.98 160.29,255.97 160.64,255.96 160.99,255.96 161.34,255.95 161.69,255.94 162.04,255.94 162.39,255.93 162.74,255.92 163.08,255.92 163.43,255.91 163.78,255.9 164.13,255.9 164.48,255.89 164.83,255.89 165.18,255.88 165.53,255.87 165.88,255.87 166.22,255.86 166.57,255.86 166.92,255.85 167.27,255.85 167.62,255.84 167.97,255.84 168.32,255.83 168.67,255.83 169.02,255.82 169.36,255.82 169.71,255.81 170.06,255.81 170.41,255.8 170.76,255.8 171.11,255.8 171.46,255.79 171.81,255.79 172.16,255.78 172.5,255.78 172.85,255.78 173.2,255.77 173.55,255.77 173.9,255.77" fill="none" stroke="#2ca02c" stroke-width="1.15" stroke-linejoin="round"/>
<polyline points="34.7,346.03 35.05,346.03 35.4,346.03 35.75,346.03 36.1,346.03 36.44,346.03 36.79,346.02 37.14,346.02 37.49,346.02 37.84,346.02 38.19,346.02 38.54,346.02 38.89,346.02 39.24,346.02 39.58,346.02 39.93,346.02 40.28,346.02 40.63,346.01 40.98,346.01 41.33,346.01 41.68,346.01 42.03,346.01 42.38,346.01 42.72,346.01 43.07,346.01 43.42,346.01 43.77,346.01 44.12,346 44.47,346 44.82,346 45.17,346 45.52,346 45.86,346 46.21,346 46.56,346 46.91,345.99 47.26,345.99 47.61,345.99 47.96,345.99 48.31,345.99 48.65,345.99 49,345.99 49.35,345.98 49.7,345.98 50.05,345.98 50.4,345.98 50.75,345.98 51.1,345.98 51.45,345.97 51.79,345.97 52.14,345.97 52.49,345.97 52.84,345.97 53.19,345.96 53.54,345.96 53.89,345.96 54.24,345.96 54.59,345.96 54.93,345.95 55.28,345.95 55.63,345.95 55.98,345.95 56.33,345.95 56.68,345.94 57.03,345.94 57.38,345.94 57.73,345.94 58.07,345.93 58.42,345.93 58.77,345.93 59.12,345.93 59.47,345.92 59.82,345.92 60.17,345.92 60.52,345.91 60.87,345.91 61.21,345.91 61.56,345.9 61.91,345.9 62.26,345.9 62.61,345.89 62.96,345.89 63.31,345.89 63.66,345.88 64.01,345.88 64.35,345.88 64.7,345.87 65.05,345.87 65.4,345.86 65.75,345.86 66.1,345.85 66.45,345.85 66.8,345.85 67.15,345.84 67.49,345.84 67.84,345.83 68.19,345.83 68.54,345.82 68.89,345.81 69.24,345.81 69.59,345.8 69.94,345.8 70.28,345.79 70.63,345.78 70.98,345.78 71.33,345.77 71.68,345.76 72.03,345.76 72.38,345.75 72.73,345.74 73.08,345.73 73.42,345.73 73.77,345.72 74.12,345.71 74.47,345.7 74.82,345.69 75.17,345.68 75.52,345.67 75.87,345.66 76.22,345.65 76.56,345.64 76.91,345.63 77.26,345.62 77.61,345.6 77.96,345.59 78.31,345.58 78.66,345.56 79.01,345.55 79.36,345.54 79.7,345.52 80.05,345.51 80.4,345.49 80.75,345.47 81.1,345.45 81.45,345.44 81.8,345.42 82.15,345.4 82.5,345.38 82.84,345.35 83.19,345.33 83.54,345.31 83.89,345.28 84.24,345.26 84.59,345.23 84.94,345.2 85.29,345.17 85.64,345.14 85.98,345.11 86.33,345.08 86.68,345.04 87.03,345 87.38,344.96 87.73,344.92 88.08,344.88 88.43,344.83 88.78,344.78 89.12,344.73 89.47,344.68 89.82,344.62 90.17,344.56 90.52,344.5 90.87,344.43 91.22,344.36 91.57,344.28 91.92,344.2 92.26,344.11 92.61,344.02 92.96,343.92 93.31,343.81 93.66,343.7 94.01,343.58 94.36,343.45 94.71,343.31 95.05,343.16 95.4,343 95.75,342.82 96.1,342.63 96.45,342.42 96.8,342.2 97.15,341.96 97.5,341.69 97.85,341.41 98.19,341.09 98.54,340.74 98.89,340.36 99.24,339.94 99.59,339.48 99.94,338.96 100.29,338.39 100.64,337.76 100.99,337.05 101.33,336.25 101.68,335.36 102.03,334.35 102.38,333.21 102.73,331.92 103.08,330.45 103.43,328.78 103.78,326.87 104.13,324.69 104.47,322.18 104.82,319.32 105.17,316.04 105.52,312.29 105.87,308.06 106.22,303.3 106.57,298.03 106.92,292.33 107.27,286.33 107.61,280.26 107.96,274.45 108.31,269.28 108.66,265.14 109.01,262.32 109.36,260.9 109.71,260.64 110.06,261.31 110.41,263.31 110.75,266.69 111.1,271.3 111.45,276.77 111.8,282.73 112.15,288.81 112.5,294.71 112.85,300.25 113.2,305.31 113.55,309.86 113.89,313.89 114.24,317.43 114.59,320.54 114.94,323.25 115.29,325.62 115.64,327.69 115.99,329.49 116.34,331.08 116.68,332.47 117.03,333.69 117.38,334.78 117.73,335.74 118.08,336.59 118.43,337.35 118.78,338.03 119.13,338.63 119.48,339.18 119.82,339.67 120.17,340.12 120.52,340.52 120.87,340.89 121.22,341.22 121.57,341.53 121.92,341.81 122.27,342.06 122.62,342.3 122.96,342.51 123.31,342.71 123.66,342.89 124.01,343.06 124.36,343.22 124.71,343.37 125.06,343.5 125.41,343.63 125.76,343.75 126.1,343.86 126.45,343.96 126.8,344.06 127.15,344.15 127.5,344.23 127.85,344.31 128.2,344.39 128.55,344.46 128.9,344.52 129.24,344.59 129.59,344.64 129.94,344.7 130.29,344.75 130.64,344.8 130.99,344.85 131.34,344.9 131.69,344.94 132.04,344.98 132.38,345.02 132.73,345.05 133.08,345.09 133.43,345.12 133.78,345.16 134.13,345.19 134.48,345.21 134.83,345.24 135.18,345.27 135.52,345.29 135.87,345.32 136.22,345.34 136.57,345.36 136.92,345.38 137.27,345.41 137.62,345.42 137.97,345.44 138.32,345.46 138.66,345.48 139.01,345.5 139.36,345.51 139.71,345.53 140.06,345.54 140.41,345.56 140.76,345.57 141.11,345.58 141.45,345.6 141.8,345.61 142.15,345.62 142.5,345.63 142.85,345.64 143.2,345.65 143.55,345.66 143.9,345.67 144.25,345.68 144.59,345.69 144.94,345.7 145.29,345.71 145.64,345.72 145.99,345.73 146.34,345.74 146.69,345.74 147.04,345.75 147.39,345.76 147.73,345.77 148.08,345.77 148.43,345.78 148.78,345.79 149.13,345.79 149.48,345.8 149.83,345.81 150.18,345.81 150.53,345.82 150.87,345.82 151.22,345.83 151.57,345.83 151.92,345.84 152.27,345.84 152.62,345.85 152.97,345.85 153.32,345.86 153.67,345.86 154.01,345.87 154.36,345.87 154.71,345.87 155.06,345.88 155.41,345.88 155.76,345.88 156.11,345.89 156.46,345.89 156.81,345.9 157.15,345.9 157.5,345.9 157.85,345.91 158.2,345.91 158.55,345.91 158.9,345.92 159.25,345.92 159.6,345.92 159.95,345.92 160.29,345.93 160.64,345.93 160.99,345.93 161.34,345.93 161.69,345.94 162.04,345.94 162.39,345.94 162.74,345.94 163.08,345.95 163.43,345.95 163.78,345.95 164.13,345.95 164.48,345.96 164.83,345.96 165.18,345.96 165.53,345.96 165.88,345.96 166.22,345.97 166.57,345.97 166.92,345.97 167.27,345.97 167.62,345.97 167.97,345.97 168.32,345.98 168.67,345.98 169.02,345.98 169.36,345.98 169.71,345.98 170.06,345.98 170.41,345.99 170.76,345.99 171.11,345.99 171.46,345.99 171.81,345.99 172.16,345.99 172.5,345.99 172.85,346 173.2,346 173.55,346 173.9,346" fill="none" stroke="#d62728" stroke-width="1.15" stroke-linejoin="round"/>
</g>
<text x="57.9" y="358.6" font-family='"DejaVu Sans", "Liberation Sans", sans-serif' font-size="7.4" text-anchor="middle" fill="#000" stroke="#000" stroke-width="0.15">1548</text>
<text x="104.3" y="358.6" font-family='"DejaVu Sans", "Liberation Sans", sans-serif' font-size="7.4" text-anchor="middle" fill="#000" stroke="#000" stroke-width="0.15">1550</text>
<text x="150.7" y="358.6" font-family='"DejaVu Sans", "Liberation Sans", sans-serif' font-size="7.4" text-anchor="middle" fill="#000" stroke="#000" stroke-width="0.15">1552</text>
<text x="23.3" y="348.9" font-family='"DejaVu Sans", "Liberation Sans", sans-serif' font-size="7.4" text-anchor="end" fill="#000" stroke="#000" stroke-width="0.15">0.0</text>
<text x="23.3" y="330.32" font-family='"DejaVu Sans", "Liberation Sans", sans-serif' font-size="7.4" text-anchor="end" fill="#000" stroke="#000" stroke-width="0.15">0.2</text>
<text x="23.3" y="311.74" font-family='"DejaVu Sans", "Liberation Sans", sans-serif' font-size="7.4" text-anchor="end" fill="#000" stroke="#000" stroke-width="0.15">0.4</text>
<text x="23.3" y="293.16" font-family='"DejaVu Sans", "Liberation Sans", sans-serif' font-size="7.4" text-anchor="end" fill="#000" stroke="#000" stroke-width="0.15">0.6</text>
<text x="23.3" y="274.58" font-family='"DejaVu Sans", "Liberation Sans", sans-serif' font-size="7.4" text-anchor="end" fill="#000" stroke="#000" stroke-width="0.15">0.8</text>
<text x="23.3" y="256" font-family='"DejaVu Sans", "Liberation Sans", sans-serif' font-size="7.4" text-anchor="end" fill="#000" stroke="#000" stroke-width="0.15">1.0</text>
<path d="M57.9 350v2.6M104.3 350v2.6M150.7 350v2.6M26.9 346.1h-2.6M26.9 327.52h-2.6M26.9 308.94h-2.6M26.9 290.36h-2.6M26.9 271.78h-2.6M26.9 253.2h-2.6" stroke="#222" stroke-width="0.6" fill="none"/>
<text x="104.2" y="247.4" font-family='"DejaVu Sans", "Liberation Sans", sans-serif' font-size="8.85" text-anchor="middle" fill="#000" stroke="#000" stroke-width="0.18">Transmission Spectra</text>
<text x="104.2" y="367.8" font-family='"DejaVu Sans", "Liberation Sans", sans-serif' font-size="7.4" text-anchor="middle" fill="#000" stroke="#000" stroke-width="0.15">Wavelength (nm)</text>
<text transform="translate(9.3 300) rotate(-90)" font-family='"DejaVu Sans", "Liberation Sans", sans-serif' font-size="7.4" text-anchor="middle" fill="#000" stroke="#000" stroke-width="0.15">Transmission (a.u.)</text>
<rect x="29.1" y="313.3" width="63.7" height="34.6" rx="1.2" fill="#fff" fill-opacity="0.8" stroke="#ccc" stroke-width="0.6"/>
<path d="M31.8 317.8h11.6" stroke="#1f77b4" stroke-width="1.05"/>
<text x="47.8" y="319.75" font-family='"DejaVu Sans", "Liberation Sans", sans-serif' font-size="5.5" text-anchor="start" fill="#000" stroke="#000" stroke-width="0.11">Through</text>
<path d="M31.8 326.02h11.6" stroke="#ff7f0e" stroke-width="1.05"/>
<text x="47.8" y="327.97" font-family='"DejaVu Sans", "Liberation Sans", sans-serif' font-size="5.5" text-anchor="start" fill="#000" stroke="#000" stroke-width="0.11">Drop</text>
<path d="M31.8 334.24h11.6" stroke="#2ca02c" stroke-width="1.05"/>
<text x="47.8" y="336.19" font-family='"DejaVu Sans", "Liberation Sans", sans-serif' font-size="5.5" text-anchor="start" fill="#000" stroke="#000" stroke-width="0.11">Through Switch</text>
<path d="M31.8 342.46h11.6" stroke="#d62728" stroke-width="1.05"/>
<text x="47.8" y="344.41" font-family='"DejaVu Sans", "Liberation Sans", sans-serif' font-size="5.5" text-anchor="start" fill="#000" stroke="#000" stroke-width="0.11">Drop Switch</text>
<text x="103.6" y="393" font-family='"Liberation Sans", Arial, sans-serif' font-size="12.7" text-anchor="middle" fill="#000" stroke="#000" stroke-width="0.36">(d)</text>
</svg>
</body></html>
